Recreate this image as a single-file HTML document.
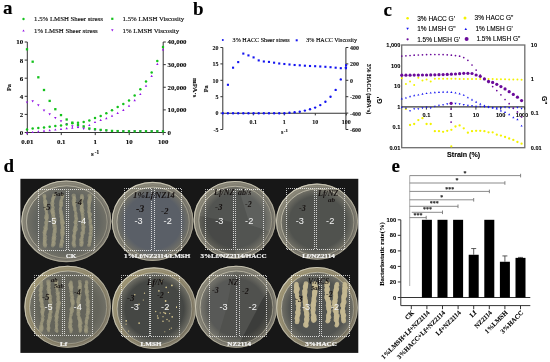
<!DOCTYPE html>
<html><head><meta charset="utf-8"><title>Figure</title>
<style>html,body{margin:0;padding:0;background:#fff;} svg{display:block;}</style>
</head><body>
<svg width="550" height="362" viewBox="0 0 550 362">
<rect x="20.4" y="178.8" width="337.90000000000003" height="174.09999999999997" fill="#171717"/>
<clipPath id="ph"><rect x="20.4" y="178.8" width="337.90000000000003" height="174.09999999999997"/></clipPath>
<g clip-path="url(#ph)">
<defs>
<linearGradient id="rimg" x1="0" y1="0" x2="1" y2="1"><stop offset="0" stop-color="#8c8978"/><stop offset="0.5" stop-color="#77756b"/><stop offset="1" stop-color="#64625a"/></linearGradient>
<linearGradient id="rimw" x1="0" y1="0" x2="1" y2="1"><stop offset="0" stop-color="#a49a74"/><stop offset="0.5" stop-color="#8a8268"/><stop offset="1" stop-color="#6e685a"/></linearGradient>
<linearGradient id="edg" x1="0" y1="0" x2="1" y2="1"><stop offset="0" stop-color="#d8d4c2"/><stop offset="0.55" stop-color="#b0ac9a"/><stop offset="1" stop-color="#989484"/></linearGradient>
<radialGradient id="in0" cx="50%" cy="50%" r="50%"><stop offset="0" stop-color="#62645f"/><stop offset="0.78" stop-color="#62645f"/><stop offset="1" stop-color="#727167"/></radialGradient>
<radialGradient id="in1" cx="50%" cy="50%" r="50%"><stop offset="0" stop-color="#5a5f67"/><stop offset="0.78" stop-color="#5a5f67"/><stop offset="1" stop-color="#727167"/></radialGradient>
<radialGradient id="in2" cx="50%" cy="50%" r="50%"><stop offset="0" stop-color="#525451"/><stop offset="0.78" stop-color="#525451"/><stop offset="1" stop-color="#727167"/></radialGradient>
<radialGradient id="in3" cx="50%" cy="50%" r="50%"><stop offset="0" stop-color="#50524e"/><stop offset="0.78" stop-color="#50524e"/><stop offset="1" stop-color="#727167"/></radialGradient>
<radialGradient id="in4" cx="50%" cy="50%" r="50%"><stop offset="0" stop-color="#64645b"/><stop offset="0.78" stop-color="#64645b"/><stop offset="1" stop-color="#727167"/></radialGradient>
<radialGradient id="in5" cx="50%" cy="50%" r="50%"><stop offset="0" stop-color="#454744"/><stop offset="0.78" stop-color="#454744"/><stop offset="1" stop-color="#727167"/></radialGradient>
<radialGradient id="in6" cx="50%" cy="50%" r="50%"><stop offset="0" stop-color="#50514e"/><stop offset="0.78" stop-color="#50514e"/><stop offset="1" stop-color="#727167"/></radialGradient>
<radialGradient id="in7" cx="50%" cy="50%" r="50%"><stop offset="0" stop-color="#525451"/><stop offset="0.78" stop-color="#525451"/><stop offset="1" stop-color="#727167"/></radialGradient>
</defs>
<ellipse cx="66.3" cy="221.3" rx="45.0" ry="40.8" fill="url(#rimg)"/>
<ellipse cx="66.3" cy="221.3" rx="44.5" ry="40.3" fill="none" stroke="url(#edg)" stroke-width="1.15"/>
<ellipse cx="66.6" cy="221.70000000000002" rx="42.8" ry="38.599999999999994" fill="none" stroke="#a29e8c" stroke-width="0.6" opacity="0.6"/>
<ellipse cx="66.8" cy="222.0" rx="40.4" ry="36.199999999999996" fill="url(#in0)"/>
<ellipse cx="66.8" cy="222.0" rx="40.4" ry="36.199999999999996" fill="none" stroke="url(#edg)" stroke-width="0.9" opacity="0.85"/>
<circle cx="44.3" cy="195.7" r="1.99" fill="#a29c80" opacity="0.6"/>
<circle cx="44.7" cy="196.8" r="1.73" fill="#a29c80" opacity="0.6"/>
<circle cx="44.7" cy="197.8" r="1.43" fill="#a29c80" opacity="0.6"/>
<circle cx="44.4" cy="199.2" r="1.48" fill="#a29c80" opacity="0.6"/>
<circle cx="45.3" cy="200.5" r="1.51" fill="#a29c80" opacity="0.6"/>
<circle cx="45.2" cy="201.7" r="2.25" fill="#a29c80" opacity="0.6"/>
<circle cx="45.2" cy="203.1" r="2.28" fill="#a29c80" opacity="0.6"/>
<circle cx="45.8" cy="204.2" r="1.66" fill="#a29c80" opacity="0.6"/>
<circle cx="45.2" cy="205.3" r="1.68" fill="#a29c80" opacity="0.6"/>
<circle cx="45.5" cy="206.9" r="1.92" fill="#a29c80" opacity="0.6"/>
<circle cx="45.9" cy="208.4" r="1.89" fill="#a29c80" opacity="0.6"/>
<circle cx="45.7" cy="209.5" r="1.59" fill="#a29c80" opacity="0.6"/>
<circle cx="46.3" cy="211.0" r="1.68" fill="#a29c80" opacity="0.6"/>
<circle cx="46.4" cy="212.5" r="1.67" fill="#a29c80" opacity="0.6"/>
<circle cx="46.8" cy="214.1" r="1.62" fill="#a29c80" opacity="0.6"/>
<circle cx="46.7" cy="215.6" r="2.19" fill="#a29c80" opacity="0.6"/>
<circle cx="46.4" cy="217.2" r="2.28" fill="#a29c80" opacity="0.6"/>
<circle cx="46.5" cy="218.3" r="2.08" fill="#a29c80" opacity="0.6"/>
<circle cx="46.6" cy="219.4" r="1.44" fill="#a29c80" opacity="0.6"/>
<circle cx="46.7" cy="220.9" r="1.92" fill="#a29c80" opacity="0.6"/>
<circle cx="46.1" cy="222.6" r="2.03" fill="#a29c80" opacity="0.6"/>
<circle cx="46.2" cy="224.1" r="1.81" fill="#a29c80" opacity="0.6"/>
<circle cx="46.3" cy="225.8" r="1.83" fill="#a29c80" opacity="0.6"/>
<circle cx="45.3" cy="227.3" r="2.03" fill="#a29c80" opacity="0.6"/>
<circle cx="46.0" cy="228.8" r="2.14" fill="#a29c80" opacity="0.6"/>
<circle cx="45.2" cy="230.1" r="2.00" fill="#a29c80" opacity="0.6"/>
<circle cx="45.1" cy="231.1" r="1.55" fill="#a29c80" opacity="0.6"/>
<circle cx="44.6" cy="232.2" r="2.09" fill="#a29c80" opacity="0.6"/>
<circle cx="44.7" cy="233.3" r="1.75" fill="#a29c80" opacity="0.6"/>
<circle cx="44.4" cy="235.0" r="1.80" fill="#a29c80" opacity="0.6"/>
<circle cx="45.1" cy="236.4" r="2.14" fill="#a29c80" opacity="0.6"/>
<circle cx="44.4" cy="238.1" r="1.77" fill="#a29c80" opacity="0.6"/>
<circle cx="45.0" cy="239.4" r="2.26" fill="#a29c80" opacity="0.6"/>
<circle cx="44.4" cy="240.5" r="1.61" fill="#a29c80" opacity="0.6"/>
<circle cx="44.7" cy="241.7" r="1.93" fill="#a29c80" opacity="0.6"/>
<circle cx="44.3" cy="242.9" r="1.78" fill="#a29c80" opacity="0.6"/>
<circle cx="45.0" cy="244.2" r="2.26" fill="#a29c80" opacity="0.6"/>
<circle cx="45.1" cy="245.8" r="1.96" fill="#a29c80" opacity="0.6"/>
<circle cx="54.1" cy="195.7" r="2.10" fill="#a29c80" opacity="0.6"/>
<circle cx="53.7" cy="197.4" r="1.75" fill="#a29c80" opacity="0.6"/>
<circle cx="52.9" cy="198.7" r="1.97" fill="#a29c80" opacity="0.6"/>
<circle cx="52.7" cy="199.8" r="1.59" fill="#a29c80" opacity="0.6"/>
<circle cx="52.9" cy="200.9" r="1.45" fill="#a29c80" opacity="0.6"/>
<circle cx="52.6" cy="201.9" r="1.49" fill="#a29c80" opacity="0.6"/>
<circle cx="52.3" cy="203.2" r="2.19" fill="#a29c80" opacity="0.6"/>
<circle cx="52.4" cy="204.7" r="1.63" fill="#a29c80" opacity="0.6"/>
<circle cx="52.6" cy="206.0" r="1.51" fill="#a29c80" opacity="0.6"/>
<circle cx="53.2" cy="207.6" r="1.82" fill="#a29c80" opacity="0.6"/>
<circle cx="52.4" cy="209.0" r="1.49" fill="#a29c80" opacity="0.6"/>
<circle cx="52.6" cy="210.3" r="2.15" fill="#a29c80" opacity="0.6"/>
<circle cx="52.5" cy="211.4" r="2.26" fill="#a29c80" opacity="0.6"/>
<circle cx="52.7" cy="212.9" r="1.89" fill="#a29c80" opacity="0.6"/>
<circle cx="53.2" cy="213.9" r="2.28" fill="#a29c80" opacity="0.6"/>
<circle cx="53.6" cy="215.6" r="1.64" fill="#a29c80" opacity="0.6"/>
<circle cx="53.3" cy="216.9" r="2.09" fill="#a29c80" opacity="0.6"/>
<circle cx="54.1" cy="218.3" r="1.70" fill="#a29c80" opacity="0.6"/>
<circle cx="54.3" cy="219.5" r="2.29" fill="#a29c80" opacity="0.6"/>
<circle cx="54.5" cy="221.1" r="2.14" fill="#a29c80" opacity="0.6"/>
<circle cx="54.1" cy="222.7" r="1.87" fill="#a29c80" opacity="0.6"/>
<circle cx="54.0" cy="224.0" r="1.43" fill="#a29c80" opacity="0.6"/>
<circle cx="54.4" cy="225.2" r="2.02" fill="#a29c80" opacity="0.6"/>
<circle cx="54.6" cy="227.0" r="2.24" fill="#a29c80" opacity="0.6"/>
<circle cx="55.2" cy="228.8" r="1.73" fill="#a29c80" opacity="0.6"/>
<circle cx="54.4" cy="230.0" r="1.58" fill="#a29c80" opacity="0.6"/>
<circle cx="54.8" cy="231.1" r="2.21" fill="#a29c80" opacity="0.6"/>
<circle cx="54.5" cy="232.8" r="1.99" fill="#a29c80" opacity="0.6"/>
<circle cx="54.0" cy="234.5" r="1.99" fill="#a29c80" opacity="0.6"/>
<circle cx="54.4" cy="236.2" r="2.08" fill="#a29c80" opacity="0.6"/>
<circle cx="53.7" cy="237.6" r="2.11" fill="#a29c80" opacity="0.6"/>
<circle cx="54.1" cy="238.8" r="2.27" fill="#a29c80" opacity="0.6"/>
<circle cx="53.5" cy="240.1" r="2.25" fill="#a29c80" opacity="0.6"/>
<circle cx="53.1" cy="241.7" r="1.51" fill="#a29c80" opacity="0.6"/>
<circle cx="53.7" cy="242.8" r="2.13" fill="#a29c80" opacity="0.6"/>
<circle cx="53.4" cy="244.0" r="2.28" fill="#a29c80" opacity="0.6"/>
<circle cx="52.8" cy="245.5" r="1.89" fill="#a29c80" opacity="0.6"/>
<circle cx="62.5" cy="195.7" r="1.98" fill="#a29c80" opacity="0.6"/>
<circle cx="62.2" cy="197.1" r="1.79" fill="#a29c80" opacity="0.6"/>
<circle cx="61.9" cy="198.8" r="1.59" fill="#a29c80" opacity="0.6"/>
<circle cx="61.2" cy="200.0" r="1.62" fill="#a29c80" opacity="0.6"/>
<circle cx="61.0" cy="201.5" r="1.78" fill="#a29c80" opacity="0.6"/>
<circle cx="61.5" cy="202.6" r="1.72" fill="#a29c80" opacity="0.6"/>
<circle cx="61.0" cy="204.0" r="2.21" fill="#a29c80" opacity="0.6"/>
<circle cx="61.3" cy="205.3" r="1.85" fill="#a29c80" opacity="0.6"/>
<circle cx="60.8" cy="206.7" r="1.42" fill="#a29c80" opacity="0.6"/>
<circle cx="60.5" cy="208.1" r="1.40" fill="#a29c80" opacity="0.6"/>
<circle cx="60.5" cy="209.7" r="1.83" fill="#a29c80" opacity="0.6"/>
<circle cx="60.9" cy="211.3" r="1.69" fill="#a29c80" opacity="0.6"/>
<circle cx="61.0" cy="212.7" r="2.11" fill="#a29c80" opacity="0.6"/>
<circle cx="61.1" cy="213.8" r="1.62" fill="#a29c80" opacity="0.6"/>
<circle cx="61.5" cy="215.0" r="1.86" fill="#a29c80" opacity="0.6"/>
<circle cx="61.6" cy="216.5" r="2.22" fill="#a29c80" opacity="0.6"/>
<circle cx="61.7" cy="217.8" r="1.85" fill="#a29c80" opacity="0.6"/>
<circle cx="62.0" cy="219.2" r="1.81" fill="#a29c80" opacity="0.6"/>
<circle cx="61.9" cy="220.7" r="2.25" fill="#a29c80" opacity="0.6"/>
<circle cx="62.6" cy="222.2" r="2.25" fill="#a29c80" opacity="0.6"/>
<circle cx="62.4" cy="223.4" r="2.25" fill="#a29c80" opacity="0.6"/>
<circle cx="62.1" cy="225.1" r="1.51" fill="#a29c80" opacity="0.6"/>
<circle cx="62.2" cy="226.4" r="1.62" fill="#a29c80" opacity="0.6"/>
<circle cx="62.9" cy="227.5" r="2.11" fill="#a29c80" opacity="0.6"/>
<circle cx="62.4" cy="229.2" r="2.04" fill="#a29c80" opacity="0.6"/>
<circle cx="62.4" cy="230.8" r="2.19" fill="#a29c80" opacity="0.6"/>
<circle cx="62.4" cy="232.5" r="2.26" fill="#a29c80" opacity="0.6"/>
<circle cx="62.6" cy="233.8" r="2.29" fill="#a29c80" opacity="0.6"/>
<circle cx="62.2" cy="235.5" r="1.79" fill="#a29c80" opacity="0.6"/>
<circle cx="62.2" cy="236.9" r="1.58" fill="#a29c80" opacity="0.6"/>
<circle cx="62.4" cy="238.2" r="1.42" fill="#a29c80" opacity="0.6"/>
<circle cx="61.9" cy="239.6" r="1.42" fill="#a29c80" opacity="0.6"/>
<circle cx="61.9" cy="240.9" r="1.86" fill="#a29c80" opacity="0.6"/>
<circle cx="62.2" cy="241.9" r="2.11" fill="#a29c80" opacity="0.6"/>
<circle cx="61.0" cy="243.7" r="1.64" fill="#a29c80" opacity="0.6"/>
<circle cx="61.6" cy="244.7" r="1.64" fill="#a29c80" opacity="0.6"/>
<circle cx="61.1" cy="245.9" r="2.22" fill="#a29c80" opacity="0.6"/>
<circle cx="73.7" cy="195.7" r="2.23" fill="#a29c80" opacity="0.6"/>
<circle cx="74.2" cy="197.2" r="1.48" fill="#a29c80" opacity="0.6"/>
<circle cx="74.2" cy="198.2" r="1.78" fill="#a29c80" opacity="0.6"/>
<circle cx="74.4" cy="199.3" r="1.97" fill="#a29c80" opacity="0.6"/>
<circle cx="73.7" cy="200.9" r="2.17" fill="#a29c80" opacity="0.6"/>
<circle cx="74.5" cy="202.0" r="1.81" fill="#a29c80" opacity="0.6"/>
<circle cx="74.3" cy="203.2" r="2.23" fill="#a29c80" opacity="0.6"/>
<circle cx="74.1" cy="204.4" r="1.87" fill="#a29c80" opacity="0.6"/>
<circle cx="74.2" cy="205.6" r="1.55" fill="#a29c80" opacity="0.6"/>
<circle cx="74.4" cy="206.7" r="1.68" fill="#a29c80" opacity="0.6"/>
<circle cx="75.1" cy="207.9" r="1.66" fill="#a29c80" opacity="0.6"/>
<circle cx="74.8" cy="209.3" r="1.71" fill="#a29c80" opacity="0.6"/>
<circle cx="75.0" cy="210.3" r="1.41" fill="#a29c80" opacity="0.6"/>
<circle cx="75.5" cy="211.9" r="1.57" fill="#a29c80" opacity="0.6"/>
<circle cx="76.0" cy="213.3" r="1.50" fill="#a29c80" opacity="0.6"/>
<circle cx="75.7" cy="215.0" r="1.85" fill="#a29c80" opacity="0.6"/>
<circle cx="75.8" cy="216.6" r="1.86" fill="#a29c80" opacity="0.6"/>
<circle cx="76.4" cy="218.2" r="1.71" fill="#a29c80" opacity="0.6"/>
<circle cx="76.2" cy="219.8" r="1.97" fill="#a29c80" opacity="0.6"/>
<circle cx="75.8" cy="221.2" r="1.45" fill="#a29c80" opacity="0.6"/>
<circle cx="75.5" cy="222.3" r="2.07" fill="#a29c80" opacity="0.6"/>
<circle cx="75.5" cy="223.5" r="1.48" fill="#a29c80" opacity="0.6"/>
<circle cx="76.0" cy="225.1" r="2.00" fill="#a29c80" opacity="0.6"/>
<circle cx="75.3" cy="226.4" r="1.66" fill="#a29c80" opacity="0.6"/>
<circle cx="75.0" cy="227.7" r="1.80" fill="#a29c80" opacity="0.6"/>
<circle cx="75.7" cy="228.9" r="2.28" fill="#a29c80" opacity="0.6"/>
<circle cx="74.7" cy="230.4" r="2.27" fill="#a29c80" opacity="0.6"/>
<circle cx="74.7" cy="231.6" r="1.40" fill="#a29c80" opacity="0.6"/>
<circle cx="74.6" cy="232.9" r="1.85" fill="#a29c80" opacity="0.6"/>
<circle cx="74.5" cy="234.1" r="1.40" fill="#a29c80" opacity="0.6"/>
<circle cx="73.9" cy="235.3" r="1.76" fill="#a29c80" opacity="0.6"/>
<circle cx="73.8" cy="236.3" r="1.67" fill="#a29c80" opacity="0.6"/>
<circle cx="74.2" cy="237.5" r="1.88" fill="#a29c80" opacity="0.6"/>
<circle cx="74.2" cy="239.1" r="2.04" fill="#a29c80" opacity="0.6"/>
<circle cx="73.9" cy="240.8" r="1.69" fill="#a29c80" opacity="0.6"/>
<circle cx="73.6" cy="242.6" r="2.05" fill="#a29c80" opacity="0.6"/>
<circle cx="73.6" cy="244.1" r="2.15" fill="#a29c80" opacity="0.6"/>
<circle cx="74.3" cy="245.8" r="2.06" fill="#a29c80" opacity="0.6"/>
<circle cx="81.9" cy="195.7" r="1.85" fill="#a29c80" opacity="0.6"/>
<circle cx="82.0" cy="197.4" r="2.14" fill="#a29c80" opacity="0.6"/>
<circle cx="82.0" cy="198.8" r="2.01" fill="#a29c80" opacity="0.6"/>
<circle cx="81.2" cy="200.4" r="1.43" fill="#a29c80" opacity="0.6"/>
<circle cx="81.3" cy="201.5" r="1.49" fill="#a29c80" opacity="0.6"/>
<circle cx="81.5" cy="203.2" r="1.96" fill="#a29c80" opacity="0.6"/>
<circle cx="81.6" cy="204.7" r="1.84" fill="#a29c80" opacity="0.6"/>
<circle cx="81.8" cy="205.7" r="2.07" fill="#a29c80" opacity="0.6"/>
<circle cx="81.6" cy="207.1" r="1.99" fill="#a29c80" opacity="0.6"/>
<circle cx="81.9" cy="208.1" r="1.63" fill="#a29c80" opacity="0.6"/>
<circle cx="81.6" cy="209.2" r="2.06" fill="#a29c80" opacity="0.6"/>
<circle cx="82.2" cy="210.3" r="2.28" fill="#a29c80" opacity="0.6"/>
<circle cx="82.0" cy="211.7" r="1.83" fill="#a29c80" opacity="0.6"/>
<circle cx="82.6" cy="213.3" r="1.96" fill="#a29c80" opacity="0.6"/>
<circle cx="82.2" cy="214.8" r="1.53" fill="#a29c80" opacity="0.6"/>
<circle cx="83.0" cy="216.0" r="1.67" fill="#a29c80" opacity="0.6"/>
<circle cx="82.4" cy="217.5" r="1.45" fill="#a29c80" opacity="0.6"/>
<circle cx="83.2" cy="218.7" r="2.02" fill="#a29c80" opacity="0.6"/>
<circle cx="83.0" cy="220.2" r="1.86" fill="#a29c80" opacity="0.6"/>
<circle cx="83.3" cy="221.6" r="1.51" fill="#a29c80" opacity="0.6"/>
<circle cx="83.1" cy="223.3" r="2.28" fill="#a29c80" opacity="0.6"/>
<circle cx="82.9" cy="225.1" r="1.81" fill="#a29c80" opacity="0.6"/>
<circle cx="83.9" cy="226.7" r="1.80" fill="#a29c80" opacity="0.6"/>
<circle cx="83.0" cy="227.9" r="2.25" fill="#a29c80" opacity="0.6"/>
<circle cx="83.3" cy="229.1" r="1.53" fill="#a29c80" opacity="0.6"/>
<circle cx="83.6" cy="230.5" r="1.52" fill="#a29c80" opacity="0.6"/>
<circle cx="82.9" cy="232.2" r="2.20" fill="#a29c80" opacity="0.6"/>
<circle cx="82.4" cy="233.7" r="2.21" fill="#a29c80" opacity="0.6"/>
<circle cx="82.0" cy="235.1" r="1.40" fill="#a29c80" opacity="0.6"/>
<circle cx="82.3" cy="236.5" r="1.67" fill="#a29c80" opacity="0.6"/>
<circle cx="82.0" cy="237.6" r="1.68" fill="#a29c80" opacity="0.6"/>
<circle cx="81.4" cy="239.3" r="2.08" fill="#a29c80" opacity="0.6"/>
<circle cx="81.4" cy="241.0" r="2.23" fill="#a29c80" opacity="0.6"/>
<circle cx="82.0" cy="242.5" r="1.66" fill="#a29c80" opacity="0.6"/>
<circle cx="81.4" cy="243.8" r="2.30" fill="#a29c80" opacity="0.6"/>
<circle cx="81.3" cy="245.3" r="1.79" fill="#a29c80" opacity="0.6"/>
<circle cx="89.5" cy="195.7" r="2.15" fill="#a29c80" opacity="0.6"/>
<circle cx="90.2" cy="196.9" r="1.62" fill="#a29c80" opacity="0.6"/>
<circle cx="89.6" cy="198.1" r="1.57" fill="#a29c80" opacity="0.6"/>
<circle cx="89.8" cy="199.4" r="2.20" fill="#a29c80" opacity="0.6"/>
<circle cx="89.3" cy="201.1" r="2.22" fill="#a29c80" opacity="0.6"/>
<circle cx="89.1" cy="202.8" r="2.05" fill="#a29c80" opacity="0.6"/>
<circle cx="89.2" cy="203.9" r="1.81" fill="#a29c80" opacity="0.6"/>
<circle cx="89.0" cy="205.5" r="1.66" fill="#a29c80" opacity="0.6"/>
<circle cx="89.3" cy="206.5" r="1.51" fill="#a29c80" opacity="0.6"/>
<circle cx="88.7" cy="207.9" r="1.67" fill="#a29c80" opacity="0.6"/>
<circle cx="89.4" cy="209.5" r="1.63" fill="#a29c80" opacity="0.6"/>
<circle cx="88.9" cy="211.0" r="1.90" fill="#a29c80" opacity="0.6"/>
<circle cx="88.8" cy="212.3" r="1.55" fill="#a29c80" opacity="0.6"/>
<circle cx="89.7" cy="213.5" r="1.85" fill="#a29c80" opacity="0.6"/>
<circle cx="89.9" cy="214.7" r="2.30" fill="#a29c80" opacity="0.6"/>
<circle cx="89.3" cy="216.0" r="1.57" fill="#a29c80" opacity="0.6"/>
<circle cx="89.6" cy="217.1" r="1.48" fill="#a29c80" opacity="0.6"/>
<circle cx="89.7" cy="218.3" r="1.91" fill="#a29c80" opacity="0.6"/>
<circle cx="90.4" cy="220.0" r="1.77" fill="#a29c80" opacity="0.6"/>
<circle cx="90.4" cy="221.3" r="1.74" fill="#a29c80" opacity="0.6"/>
<circle cx="90.1" cy="222.6" r="1.65" fill="#a29c80" opacity="0.6"/>
<circle cx="90.3" cy="224.4" r="1.85" fill="#a29c80" opacity="0.6"/>
<circle cx="91.2" cy="225.9" r="1.59" fill="#a29c80" opacity="0.6"/>
<circle cx="90.6" cy="227.1" r="1.76" fill="#a29c80" opacity="0.6"/>
<circle cx="91.3" cy="228.5" r="2.16" fill="#a29c80" opacity="0.6"/>
<circle cx="90.4" cy="230.2" r="1.43" fill="#a29c80" opacity="0.6"/>
<circle cx="91.2" cy="231.7" r="1.83" fill="#a29c80" opacity="0.6"/>
<circle cx="90.2" cy="233.2" r="1.75" fill="#a29c80" opacity="0.6"/>
<circle cx="90.8" cy="234.9" r="2.17" fill="#a29c80" opacity="0.6"/>
<circle cx="90.0" cy="236.7" r="1.50" fill="#a29c80" opacity="0.6"/>
<circle cx="90.2" cy="237.8" r="2.01" fill="#a29c80" opacity="0.6"/>
<circle cx="90.1" cy="239.6" r="1.98" fill="#a29c80" opacity="0.6"/>
<circle cx="89.6" cy="241.2" r="1.90" fill="#a29c80" opacity="0.6"/>
<circle cx="89.8" cy="242.2" r="1.61" fill="#a29c80" opacity="0.6"/>
<circle cx="89.5" cy="244.0" r="1.67" fill="#a29c80" opacity="0.6"/>
<circle cx="88.9" cy="245.1" r="1.97" fill="#a29c80" opacity="0.6"/>
<rect x="38.5" y="189.5" width="28.0" height="61.0" fill="none" stroke="#ffffff" stroke-width="0.95" stroke-dasharray="1 1" stroke-dashoffset="0.5" opacity="0.8"/>
<rect x="68.5" y="189.5" width="26.0" height="61.0" fill="none" stroke="#ffffff" stroke-width="0.95" stroke-dasharray="1 1" stroke-dashoffset="0.5" opacity="0.8"/>
<text x="43" y="210" font-family="'Liberation Serif','Times New Roman',serif" font-style="italic" font-weight="bold" font-size="9" fill="#120d0c" opacity="0.92">-5</text>
<text x="54" y="196" font-family="'Liberation Serif','Times New Roman',serif" font-style="italic" font-weight="bold" font-size="6.5" fill="#120d0c" opacity="0.92">5ab</text>
<text x="75" y="205" font-family="'Liberation Serif','Times New Roman',serif" font-style="italic" font-weight="bold" font-size="8.5" fill="#120d0c" opacity="0.92">-4</text>
<text x="52.3" y="223.5" font-family="'Liberation Sans',Arial,sans-serif" font-size="9.2" fill="#f4f4f4" text-anchor="middle">-5</text>
<text x="82.0" y="223.5" font-family="'Liberation Sans',Arial,sans-serif" font-size="9.2" fill="#f4f4f4" text-anchor="middle">-4</text>
<text x="71.0" y="258.40000000000003" font-family="'Liberation Serif','Times New Roman',serif" font-size="7.1" font-weight="bold" fill="#f6f6f6" stroke="#f6f6f6" stroke-width="0.2" text-anchor="middle">CK</text>
<ellipse cx="152.6" cy="221.4" rx="40.8" ry="39.5" fill="url(#rimg)"/>
<ellipse cx="152.6" cy="221.4" rx="40.3" ry="39.0" fill="none" stroke="url(#edg)" stroke-width="1.15"/>
<ellipse cx="152.9" cy="221.8" rx="38.599999999999994" ry="37.3" fill="none" stroke="#a29e8c" stroke-width="0.6" opacity="0.6"/>
<ellipse cx="153.1" cy="222.1" rx="36.199999999999996" ry="34.9" fill="url(#in1)"/>
<ellipse cx="153.1" cy="222.1" rx="36.199999999999996" ry="34.9" fill="none" stroke="url(#edg)" stroke-width="0.9" opacity="0.85"/>
<rect x="124.5" y="188.5" width="27.0" height="62.0" fill="none" stroke="#ffffff" stroke-width="0.95" stroke-dasharray="1 1" stroke-dashoffset="0.5" opacity="0.8"/>
<rect x="154.5" y="188.5" width="27.0" height="62.0" fill="none" stroke="#ffffff" stroke-width="0.95" stroke-dasharray="1 1" stroke-dashoffset="0.5" opacity="0.8"/>
<text x="133" y="198" font-family="'Liberation Serif','Times New Roman',serif" font-style="italic" font-weight="bold" font-size="9" fill="#120d0c" opacity="0.92">1%Lf/</text>
<text x="155" y="198" font-family="'Liberation Serif','Times New Roman',serif" font-style="italic" font-weight="bold" font-size="8.5" fill="#120d0c" opacity="0.92">NZ14</text>
<text x="136" y="212" font-family="'Liberation Serif','Times New Roman',serif" font-style="italic" font-weight="bold" font-size="10" fill="#120d0c" opacity="0.92">-3</text>
<text x="161" y="214" font-family="'Liberation Serif','Times New Roman',serif" font-style="italic" font-weight="bold" font-size="9" fill="#120d0c" opacity="0.92">-2</text>
<text x="138.6" y="223.5" font-family="'Liberation Sans',Arial,sans-serif" font-size="9.2" fill="#f4f4f4" text-anchor="middle">-3</text>
<text x="167.7" y="223.5" font-family="'Liberation Sans',Arial,sans-serif" font-size="9.2" fill="#f4f4f4" text-anchor="middle">-2</text>
<text x="157.2" y="258.40000000000003" font-family="'Liberation Serif','Times New Roman',serif" font-size="7.1" font-weight="bold" fill="#f6f6f6" stroke="#f6f6f6" stroke-width="0.2" text-anchor="middle">1%Lf/NZ2114/LMSH</text>
<ellipse cx="234.7" cy="219.8" rx="41.0" ry="38.8" fill="url(#rimg)"/>
<ellipse cx="234.7" cy="219.8" rx="40.5" ry="38.3" fill="none" stroke="url(#edg)" stroke-width="1.15"/>
<ellipse cx="235.0" cy="220.20000000000002" rx="38.8" ry="36.599999999999994" fill="none" stroke="#a29e8c" stroke-width="0.6" opacity="0.6"/>
<ellipse cx="235.2" cy="220.5" rx="36.4" ry="34.199999999999996" fill="url(#in2)"/>
<ellipse cx="235.2" cy="220.5" rx="36.4" ry="34.199999999999996" fill="none" stroke="url(#edg)" stroke-width="0.9" opacity="0.85"/>
<clipPath id="ic2"><ellipse cx="235.2" cy="220.5" rx="35.8" ry="33.599999999999994"/></clipPath>
<g clip-path="url(#ic2)"><polygon points="236,180 280,180 280,235 250,225" fill="#fff" opacity="0.07"/><polygon points="195,215 232,222 236,262 195,262" fill="#000" opacity="0.12"/></g>
<rect x="205.5" y="189.5" width="28.0" height="60.0" fill="none" stroke="#ffffff" stroke-width="0.95" stroke-dasharray="1 1" stroke-dashoffset="0.5" opacity="0.8"/>
<rect x="235.5" y="189.5" width="28.0" height="60.0" fill="none" stroke="#ffffff" stroke-width="0.95" stroke-dasharray="1 1" stroke-dashoffset="0.5" opacity="0.8"/>
<text x="214" y="195" font-family="'Liberation Serif','Times New Roman',serif" font-style="italic" font-weight="bold" font-size="8" fill="#120d0c" opacity="0.92">Lf/NZ</text>
<text x="238" y="195" font-family="'Liberation Serif','Times New Roman',serif" font-style="italic" font-weight="bold" font-size="8" fill="#120d0c" opacity="0.92">ab/s</text>
<text x="215" y="210" font-family="'Liberation Serif','Times New Roman',serif" font-style="italic" font-weight="bold" font-size="9" fill="#120d0c" opacity="0.92">-3</text>
<text x="245" y="207" font-family="'Liberation Serif','Times New Roman',serif" font-style="italic" font-weight="bold" font-size="8" fill="#120d0c" opacity="0.92">-2</text>
<text x="219.4" y="223.5" font-family="'Liberation Sans',Arial,sans-serif" font-size="9.2" fill="#f4f4f4" text-anchor="middle">-3</text>
<text x="249.2" y="223.5" font-family="'Liberation Sans',Arial,sans-serif" font-size="9.2" fill="#f4f4f4" text-anchor="middle">-2</text>
<text x="233.5" y="258.40000000000003" font-family="'Liberation Serif','Times New Roman',serif" font-size="7.1" font-weight="bold" fill="#f6f6f6" stroke="#f6f6f6" stroke-width="0.2" text-anchor="middle">3%Lf/NZ2114/HACC</text>
<ellipse cx="317.0" cy="221.6" rx="41.0" ry="38.0" fill="url(#rimg)"/>
<ellipse cx="317.0" cy="221.6" rx="40.5" ry="37.5" fill="none" stroke="url(#edg)" stroke-width="1.15"/>
<ellipse cx="317.3" cy="222.0" rx="38.8" ry="35.8" fill="none" stroke="#a29e8c" stroke-width="0.6" opacity="0.6"/>
<ellipse cx="317.5" cy="222.29999999999998" rx="36.4" ry="33.4" fill="url(#in3)"/>
<ellipse cx="317.5" cy="222.29999999999998" rx="36.4" ry="33.4" fill="none" stroke="url(#edg)" stroke-width="0.9" opacity="0.85"/>
<rect x="286.5" y="188.5" width="28.0" height="61.0" fill="none" stroke="#ffffff" stroke-width="0.95" stroke-dasharray="1 1" stroke-dashoffset="0.5" opacity="0.8"/>
<rect x="316.5" y="188.5" width="28.0" height="61.0" fill="none" stroke="#ffffff" stroke-width="0.95" stroke-dasharray="1 1" stroke-dashoffset="0.5" opacity="0.8"/>
<text x="318" y="196" font-family="'Liberation Serif','Times New Roman',serif" font-style="italic" font-weight="bold" font-size="8" fill="#120d0c" opacity="0.92">Lf/NZ</text>
<text x="299" y="211" font-family="'Liberation Serif','Times New Roman',serif" font-style="italic" font-weight="bold" font-size="8" fill="#120d0c" opacity="0.92">-3</text>
<text x="328" y="202" font-family="'Liberation Serif','Times New Roman',serif" font-style="italic" font-weight="bold" font-size="7" fill="#120d0c" opacity="0.92">ab</text>
<text x="299.8" y="223.5" font-family="'Liberation Sans',Arial,sans-serif" font-size="9.2" fill="#f4f4f4" text-anchor="middle">-3</text>
<text x="330.2" y="223.5" font-family="'Liberation Sans',Arial,sans-serif" font-size="9.2" fill="#f4f4f4" text-anchor="middle">-2</text>
<text x="318.5" y="258.40000000000003" font-family="'Liberation Serif','Times New Roman',serif" font-size="7.1" font-weight="bold" fill="#f6f6f6" stroke="#f6f6f6" stroke-width="0.2" text-anchor="middle">Lf/NZ2114</text>
<ellipse cx="67.6" cy="306.7" rx="43.2" ry="41.0" fill="url(#rimw)"/>
<ellipse cx="67.6" cy="306.7" rx="42.7" ry="40.5" fill="none" stroke="url(#edg)" stroke-width="1.15"/>
<ellipse cx="67.89999999999999" cy="307.09999999999997" rx="41.0" ry="38.8" fill="none" stroke="#a29e8c" stroke-width="0.6" opacity="0.6"/>
<ellipse cx="68.1" cy="307.4" rx="38.6" ry="36.4" fill="url(#in4)"/>
<ellipse cx="68.1" cy="307.4" rx="38.6" ry="36.4" fill="none" stroke="url(#edg)" stroke-width="0.9" opacity="0.85"/>
<circle cx="41.2" cy="281.7" r="1.87" fill="#a29c80" opacity="0.6"/>
<circle cx="41.3" cy="283.2" r="1.60" fill="#a29c80" opacity="0.6"/>
<circle cx="40.8" cy="284.6" r="1.67" fill="#a29c80" opacity="0.6"/>
<circle cx="41.6" cy="286.0" r="1.98" fill="#a29c80" opacity="0.6"/>
<circle cx="40.9" cy="287.7" r="1.61" fill="#a29c80" opacity="0.6"/>
<circle cx="41.3" cy="288.9" r="2.03" fill="#a29c80" opacity="0.6"/>
<circle cx="40.3" cy="290.2" r="1.85" fill="#a29c80" opacity="0.6"/>
<circle cx="40.7" cy="291.7" r="1.63" fill="#a29c80" opacity="0.6"/>
<circle cx="41.2" cy="293.2" r="1.60" fill="#a29c80" opacity="0.6"/>
<circle cx="40.7" cy="294.3" r="1.78" fill="#a29c80" opacity="0.6"/>
<circle cx="40.6" cy="295.8" r="2.12" fill="#a29c80" opacity="0.6"/>
<circle cx="41.1" cy="297.4" r="1.58" fill="#a29c80" opacity="0.6"/>
<circle cx="41.1" cy="299.2" r="2.14" fill="#a29c80" opacity="0.6"/>
<circle cx="41.1" cy="300.4" r="2.08" fill="#a29c80" opacity="0.6"/>
<circle cx="42.0" cy="301.6" r="1.85" fill="#a29c80" opacity="0.6"/>
<circle cx="41.5" cy="302.8" r="1.78" fill="#a29c80" opacity="0.6"/>
<circle cx="42.4" cy="304.3" r="1.53" fill="#a29c80" opacity="0.6"/>
<circle cx="41.9" cy="305.6" r="2.28" fill="#a29c80" opacity="0.6"/>
<circle cx="41.8" cy="306.7" r="1.45" fill="#a29c80" opacity="0.6"/>
<circle cx="42.8" cy="308.0" r="2.20" fill="#a29c80" opacity="0.6"/>
<circle cx="43.1" cy="309.6" r="2.24" fill="#a29c80" opacity="0.6"/>
<circle cx="42.4" cy="310.9" r="2.24" fill="#a29c80" opacity="0.6"/>
<circle cx="42.3" cy="312.5" r="2.00" fill="#a29c80" opacity="0.6"/>
<circle cx="42.6" cy="313.8" r="1.70" fill="#a29c80" opacity="0.6"/>
<circle cx="42.3" cy="314.9" r="1.65" fill="#a29c80" opacity="0.6"/>
<circle cx="43.2" cy="316.2" r="1.51" fill="#a29c80" opacity="0.6"/>
<circle cx="42.3" cy="318.0" r="1.72" fill="#a29c80" opacity="0.6"/>
<circle cx="42.8" cy="319.6" r="1.79" fill="#a29c80" opacity="0.6"/>
<circle cx="42.3" cy="320.7" r="1.74" fill="#a29c80" opacity="0.6"/>
<circle cx="41.8" cy="322.4" r="1.73" fill="#a29c80" opacity="0.6"/>
<circle cx="41.4" cy="324.1" r="1.77" fill="#a29c80" opacity="0.6"/>
<circle cx="41.9" cy="325.8" r="1.44" fill="#a29c80" opacity="0.6"/>
<circle cx="41.1" cy="326.8" r="2.23" fill="#a29c80" opacity="0.6"/>
<circle cx="41.6" cy="328.0" r="2.21" fill="#a29c80" opacity="0.6"/>
<circle cx="41.0" cy="329.3" r="2.26" fill="#a29c80" opacity="0.6"/>
<circle cx="40.8" cy="330.8" r="2.04" fill="#a29c80" opacity="0.6"/>
<circle cx="48.2" cy="281.7" r="2.08" fill="#a29c80" opacity="0.6"/>
<circle cx="48.7" cy="283.4" r="2.25" fill="#a29c80" opacity="0.6"/>
<circle cx="48.3" cy="284.5" r="1.83" fill="#a29c80" opacity="0.6"/>
<circle cx="49.1" cy="286.2" r="1.75" fill="#a29c80" opacity="0.6"/>
<circle cx="48.6" cy="287.4" r="1.84" fill="#a29c80" opacity="0.6"/>
<circle cx="48.5" cy="289.2" r="2.12" fill="#a29c80" opacity="0.6"/>
<circle cx="49.2" cy="290.8" r="2.10" fill="#a29c80" opacity="0.6"/>
<circle cx="48.9" cy="292.2" r="1.69" fill="#a29c80" opacity="0.6"/>
<circle cx="49.6" cy="293.5" r="1.47" fill="#a29c80" opacity="0.6"/>
<circle cx="49.7" cy="294.7" r="1.62" fill="#a29c80" opacity="0.6"/>
<circle cx="49.1" cy="295.7" r="1.90" fill="#a29c80" opacity="0.6"/>
<circle cx="50.2" cy="297.0" r="2.20" fill="#a29c80" opacity="0.6"/>
<circle cx="49.8" cy="298.8" r="1.48" fill="#a29c80" opacity="0.6"/>
<circle cx="50.1" cy="299.9" r="2.04" fill="#a29c80" opacity="0.6"/>
<circle cx="50.0" cy="301.2" r="1.78" fill="#a29c80" opacity="0.6"/>
<circle cx="50.6" cy="302.7" r="2.07" fill="#a29c80" opacity="0.6"/>
<circle cx="50.7" cy="304.4" r="1.51" fill="#a29c80" opacity="0.6"/>
<circle cx="50.4" cy="306.1" r="1.91" fill="#a29c80" opacity="0.6"/>
<circle cx="50.8" cy="307.4" r="1.58" fill="#a29c80" opacity="0.6"/>
<circle cx="50.3" cy="308.6" r="1.54" fill="#a29c80" opacity="0.6"/>
<circle cx="50.5" cy="310.3" r="1.69" fill="#a29c80" opacity="0.6"/>
<circle cx="50.8" cy="311.6" r="1.86" fill="#a29c80" opacity="0.6"/>
<circle cx="50.5" cy="312.8" r="1.99" fill="#a29c80" opacity="0.6"/>
<circle cx="49.6" cy="314.6" r="1.83" fill="#a29c80" opacity="0.6"/>
<circle cx="50.1" cy="316.2" r="2.22" fill="#a29c80" opacity="0.6"/>
<circle cx="49.4" cy="317.3" r="1.51" fill="#a29c80" opacity="0.6"/>
<circle cx="50.0" cy="318.4" r="1.92" fill="#a29c80" opacity="0.6"/>
<circle cx="49.1" cy="320.2" r="2.18" fill="#a29c80" opacity="0.6"/>
<circle cx="48.8" cy="321.5" r="2.10" fill="#a29c80" opacity="0.6"/>
<circle cx="48.5" cy="323.3" r="1.94" fill="#a29c80" opacity="0.6"/>
<circle cx="48.5" cy="324.8" r="1.73" fill="#a29c80" opacity="0.6"/>
<circle cx="48.4" cy="325.9" r="1.63" fill="#a29c80" opacity="0.6"/>
<circle cx="48.8" cy="327.4" r="1.58" fill="#a29c80" opacity="0.6"/>
<circle cx="48.4" cy="328.4" r="2.01" fill="#a29c80" opacity="0.6"/>
<circle cx="48.4" cy="329.5" r="1.58" fill="#a29c80" opacity="0.6"/>
<circle cx="48.7" cy="331.1" r="1.46" fill="#a29c80" opacity="0.6"/>
<circle cx="56.5" cy="281.7" r="1.98" fill="#a29c80" opacity="0.6"/>
<circle cx="56.2" cy="282.8" r="2.03" fill="#a29c80" opacity="0.6"/>
<circle cx="56.4" cy="284.1" r="1.68" fill="#a29c80" opacity="0.6"/>
<circle cx="56.6" cy="285.9" r="1.91" fill="#a29c80" opacity="0.6"/>
<circle cx="56.8" cy="287.1" r="2.18" fill="#a29c80" opacity="0.6"/>
<circle cx="57.0" cy="288.9" r="1.58" fill="#a29c80" opacity="0.6"/>
<circle cx="57.1" cy="290.5" r="1.41" fill="#a29c80" opacity="0.6"/>
<circle cx="57.6" cy="292.3" r="2.14" fill="#a29c80" opacity="0.6"/>
<circle cx="58.2" cy="293.6" r="1.81" fill="#a29c80" opacity="0.6"/>
<circle cx="57.5" cy="294.7" r="1.90" fill="#a29c80" opacity="0.6"/>
<circle cx="58.5" cy="296.2" r="1.48" fill="#a29c80" opacity="0.6"/>
<circle cx="58.1" cy="297.7" r="1.85" fill="#a29c80" opacity="0.6"/>
<circle cx="58.1" cy="298.8" r="1.87" fill="#a29c80" opacity="0.6"/>
<circle cx="58.0" cy="300.6" r="1.84" fill="#a29c80" opacity="0.6"/>
<circle cx="58.9" cy="302.2" r="1.58" fill="#a29c80" opacity="0.6"/>
<circle cx="58.8" cy="303.3" r="2.28" fill="#a29c80" opacity="0.6"/>
<circle cx="57.8" cy="304.7" r="2.23" fill="#a29c80" opacity="0.6"/>
<circle cx="58.6" cy="306.0" r="1.96" fill="#a29c80" opacity="0.6"/>
<circle cx="57.7" cy="307.7" r="2.11" fill="#a29c80" opacity="0.6"/>
<circle cx="57.8" cy="308.9" r="2.16" fill="#a29c80" opacity="0.6"/>
<circle cx="57.4" cy="310.5" r="1.60" fill="#a29c80" opacity="0.6"/>
<circle cx="57.5" cy="311.8" r="1.75" fill="#a29c80" opacity="0.6"/>
<circle cx="57.1" cy="312.9" r="2.05" fill="#a29c80" opacity="0.6"/>
<circle cx="56.6" cy="314.7" r="1.91" fill="#a29c80" opacity="0.6"/>
<circle cx="56.4" cy="316.3" r="2.15" fill="#a29c80" opacity="0.6"/>
<circle cx="56.9" cy="317.4" r="1.90" fill="#a29c80" opacity="0.6"/>
<circle cx="56.4" cy="318.9" r="1.78" fill="#a29c80" opacity="0.6"/>
<circle cx="56.4" cy="320.3" r="1.99" fill="#a29c80" opacity="0.6"/>
<circle cx="56.4" cy="321.7" r="1.42" fill="#a29c80" opacity="0.6"/>
<circle cx="56.4" cy="323.2" r="1.61" fill="#a29c80" opacity="0.6"/>
<circle cx="56.7" cy="324.8" r="1.81" fill="#a29c80" opacity="0.6"/>
<circle cx="56.4" cy="325.9" r="1.50" fill="#a29c80" opacity="0.6"/>
<circle cx="56.4" cy="327.0" r="1.48" fill="#a29c80" opacity="0.6"/>
<circle cx="56.6" cy="328.4" r="1.44" fill="#a29c80" opacity="0.6"/>
<circle cx="56.4" cy="329.9" r="2.06" fill="#a29c80" opacity="0.6"/>
<circle cx="57.0" cy="331.5" r="1.45" fill="#a29c80" opacity="0.6"/>
<circle cx="70.9" cy="281.7" r="1.52" fill="#a29c80" opacity="0.6"/>
<circle cx="71.0" cy="283.4" r="2.06" fill="#a29c80" opacity="0.6"/>
<circle cx="70.3" cy="285.0" r="2.28" fill="#a29c80" opacity="0.6"/>
<circle cx="71.2" cy="286.4" r="2.22" fill="#a29c80" opacity="0.6"/>
<circle cx="71.2" cy="287.6" r="2.24" fill="#a29c80" opacity="0.6"/>
<circle cx="70.9" cy="288.6" r="2.08" fill="#a29c80" opacity="0.6"/>
<circle cx="71.6" cy="289.7" r="1.65" fill="#a29c80" opacity="0.6"/>
<circle cx="71.1" cy="291.4" r="1.85" fill="#a29c80" opacity="0.6"/>
<circle cx="71.4" cy="293.1" r="1.64" fill="#a29c80" opacity="0.6"/>
<circle cx="71.7" cy="294.5" r="1.43" fill="#a29c80" opacity="0.6"/>
<circle cx="71.7" cy="295.7" r="2.24" fill="#a29c80" opacity="0.6"/>
<circle cx="72.6" cy="297.2" r="1.55" fill="#a29c80" opacity="0.6"/>
<circle cx="71.9" cy="298.9" r="1.88" fill="#a29c80" opacity="0.6"/>
<circle cx="72.3" cy="300.4" r="2.19" fill="#a29c80" opacity="0.6"/>
<circle cx="72.5" cy="301.8" r="2.19" fill="#a29c80" opacity="0.6"/>
<circle cx="72.9" cy="302.9" r="1.97" fill="#a29c80" opacity="0.6"/>
<circle cx="72.7" cy="304.2" r="1.64" fill="#a29c80" opacity="0.6"/>
<circle cx="72.4" cy="306.0" r="1.72" fill="#a29c80" opacity="0.6"/>
<circle cx="72.1" cy="307.6" r="1.56" fill="#a29c80" opacity="0.6"/>
<circle cx="71.5" cy="309.2" r="2.14" fill="#a29c80" opacity="0.6"/>
<circle cx="72.0" cy="310.4" r="2.29" fill="#a29c80" opacity="0.6"/>
<circle cx="71.8" cy="311.9" r="1.68" fill="#a29c80" opacity="0.6"/>
<circle cx="71.0" cy="312.9" r="1.53" fill="#a29c80" opacity="0.6"/>
<circle cx="71.2" cy="314.4" r="1.86" fill="#a29c80" opacity="0.6"/>
<circle cx="70.7" cy="316.1" r="1.60" fill="#a29c80" opacity="0.6"/>
<circle cx="70.4" cy="317.6" r="1.40" fill="#a29c80" opacity="0.6"/>
<circle cx="70.3" cy="318.9" r="1.72" fill="#a29c80" opacity="0.6"/>
<circle cx="70.7" cy="320.1" r="1.93" fill="#a29c80" opacity="0.6"/>
<circle cx="70.6" cy="321.2" r="1.83" fill="#a29c80" opacity="0.6"/>
<circle cx="70.9" cy="322.3" r="1.62" fill="#a29c80" opacity="0.6"/>
<circle cx="70.0" cy="323.5" r="1.97" fill="#a29c80" opacity="0.6"/>
<circle cx="70.7" cy="325.2" r="1.76" fill="#a29c80" opacity="0.6"/>
<circle cx="70.0" cy="326.4" r="1.98" fill="#a29c80" opacity="0.6"/>
<circle cx="70.4" cy="327.8" r="1.98" fill="#a29c80" opacity="0.6"/>
<circle cx="71.1" cy="329.2" r="2.06" fill="#a29c80" opacity="0.6"/>
<circle cx="71.2" cy="330.4" r="1.44" fill="#a29c80" opacity="0.6"/>
<circle cx="70.9" cy="331.8" r="1.61" fill="#a29c80" opacity="0.6"/>
<circle cx="79.7" cy="281.7" r="1.90" fill="#a29c80" opacity="0.6"/>
<circle cx="79.9" cy="283.5" r="1.58" fill="#a29c80" opacity="0.6"/>
<circle cx="80.3" cy="284.9" r="1.98" fill="#a29c80" opacity="0.6"/>
<circle cx="79.9" cy="286.6" r="1.68" fill="#a29c80" opacity="0.6"/>
<circle cx="79.7" cy="287.8" r="2.20" fill="#a29c80" opacity="0.6"/>
<circle cx="80.3" cy="289.5" r="1.41" fill="#a29c80" opacity="0.6"/>
<circle cx="80.1" cy="291.1" r="1.82" fill="#a29c80" opacity="0.6"/>
<circle cx="79.7" cy="292.7" r="1.60" fill="#a29c80" opacity="0.6"/>
<circle cx="79.3" cy="293.8" r="1.43" fill="#a29c80" opacity="0.6"/>
<circle cx="79.6" cy="295.1" r="2.03" fill="#a29c80" opacity="0.6"/>
<circle cx="79.3" cy="296.8" r="1.64" fill="#a29c80" opacity="0.6"/>
<circle cx="78.9" cy="298.2" r="2.11" fill="#a29c80" opacity="0.6"/>
<circle cx="78.5" cy="299.6" r="1.98" fill="#a29c80" opacity="0.6"/>
<circle cx="78.3" cy="301.4" r="2.19" fill="#a29c80" opacity="0.6"/>
<circle cx="78.2" cy="302.4" r="1.61" fill="#a29c80" opacity="0.6"/>
<circle cx="78.8" cy="304.0" r="2.07" fill="#a29c80" opacity="0.6"/>
<circle cx="78.7" cy="305.3" r="1.70" fill="#a29c80" opacity="0.6"/>
<circle cx="78.7" cy="306.4" r="1.97" fill="#a29c80" opacity="0.6"/>
<circle cx="78.5" cy="308.0" r="2.28" fill="#a29c80" opacity="0.6"/>
<circle cx="78.7" cy="309.4" r="2.03" fill="#a29c80" opacity="0.6"/>
<circle cx="78.4" cy="311.1" r="2.05" fill="#a29c80" opacity="0.6"/>
<circle cx="78.4" cy="312.5" r="1.59" fill="#a29c80" opacity="0.6"/>
<circle cx="78.4" cy="314.0" r="2.22" fill="#a29c80" opacity="0.6"/>
<circle cx="78.5" cy="315.1" r="1.50" fill="#a29c80" opacity="0.6"/>
<circle cx="79.0" cy="316.9" r="1.53" fill="#a29c80" opacity="0.6"/>
<circle cx="78.9" cy="317.9" r="2.02" fill="#a29c80" opacity="0.6"/>
<circle cx="79.7" cy="319.4" r="2.06" fill="#a29c80" opacity="0.6"/>
<circle cx="79.8" cy="320.5" r="1.73" fill="#a29c80" opacity="0.6"/>
<circle cx="80.2" cy="322.1" r="2.20" fill="#a29c80" opacity="0.6"/>
<circle cx="80.4" cy="323.2" r="2.22" fill="#a29c80" opacity="0.6"/>
<circle cx="79.8" cy="324.9" r="1.59" fill="#a29c80" opacity="0.6"/>
<circle cx="79.8" cy="326.0" r="2.16" fill="#a29c80" opacity="0.6"/>
<circle cx="80.4" cy="327.7" r="2.14" fill="#a29c80" opacity="0.6"/>
<circle cx="80.1" cy="329.2" r="1.49" fill="#a29c80" opacity="0.6"/>
<circle cx="80.5" cy="330.2" r="1.58" fill="#a29c80" opacity="0.6"/>
<circle cx="80.1" cy="331.5" r="1.42" fill="#a29c80" opacity="0.6"/>
<circle cx="86.5" cy="281.7" r="1.73" fill="#a29c80" opacity="0.6"/>
<circle cx="86.7" cy="283.0" r="1.85" fill="#a29c80" opacity="0.6"/>
<circle cx="86.3" cy="284.6" r="1.43" fill="#a29c80" opacity="0.6"/>
<circle cx="86.1" cy="286.0" r="2.10" fill="#a29c80" opacity="0.6"/>
<circle cx="86.4" cy="287.2" r="1.88" fill="#a29c80" opacity="0.6"/>
<circle cx="86.7" cy="288.4" r="1.48" fill="#a29c80" opacity="0.6"/>
<circle cx="86.1" cy="290.1" r="1.40" fill="#a29c80" opacity="0.6"/>
<circle cx="86.9" cy="291.2" r="2.28" fill="#a29c80" opacity="0.6"/>
<circle cx="86.7" cy="292.2" r="1.84" fill="#a29c80" opacity="0.6"/>
<circle cx="86.6" cy="293.9" r="1.85" fill="#a29c80" opacity="0.6"/>
<circle cx="87.5" cy="295.2" r="1.63" fill="#a29c80" opacity="0.6"/>
<circle cx="87.2" cy="296.9" r="1.59" fill="#a29c80" opacity="0.6"/>
<circle cx="87.6" cy="298.5" r="1.50" fill="#a29c80" opacity="0.6"/>
<circle cx="87.3" cy="300.0" r="2.11" fill="#a29c80" opacity="0.6"/>
<circle cx="88.2" cy="301.5" r="1.97" fill="#a29c80" opacity="0.6"/>
<circle cx="87.9" cy="302.8" r="1.76" fill="#a29c80" opacity="0.6"/>
<circle cx="87.7" cy="304.5" r="2.20" fill="#a29c80" opacity="0.6"/>
<circle cx="87.9" cy="305.6" r="1.64" fill="#a29c80" opacity="0.6"/>
<circle cx="88.2" cy="307.3" r="1.74" fill="#a29c80" opacity="0.6"/>
<circle cx="87.8" cy="309.0" r="1.81" fill="#a29c80" opacity="0.6"/>
<circle cx="88.3" cy="310.4" r="2.08" fill="#a29c80" opacity="0.6"/>
<circle cx="87.7" cy="311.9" r="1.69" fill="#a29c80" opacity="0.6"/>
<circle cx="88.1" cy="313.0" r="2.00" fill="#a29c80" opacity="0.6"/>
<circle cx="87.2" cy="314.6" r="1.79" fill="#a29c80" opacity="0.6"/>
<circle cx="87.4" cy="316.3" r="1.51" fill="#a29c80" opacity="0.6"/>
<circle cx="87.5" cy="317.6" r="1.61" fill="#a29c80" opacity="0.6"/>
<circle cx="86.8" cy="318.8" r="2.03" fill="#a29c80" opacity="0.6"/>
<circle cx="86.4" cy="320.5" r="1.54" fill="#a29c80" opacity="0.6"/>
<circle cx="86.4" cy="321.7" r="1.87" fill="#a29c80" opacity="0.6"/>
<circle cx="86.3" cy="322.8" r="1.57" fill="#a29c80" opacity="0.6"/>
<circle cx="86.5" cy="324.6" r="1.49" fill="#a29c80" opacity="0.6"/>
<circle cx="85.8" cy="326.3" r="1.75" fill="#a29c80" opacity="0.6"/>
<circle cx="86.5" cy="328.1" r="2.06" fill="#a29c80" opacity="0.6"/>
<circle cx="85.9" cy="329.5" r="1.97" fill="#a29c80" opacity="0.6"/>
<circle cx="85.9" cy="330.6" r="1.75" fill="#a29c80" opacity="0.6"/>
<circle cx="86.2" cy="331.6" r="2.11" fill="#a29c80" opacity="0.6"/>
<rect x="34.5" y="275.5" width="28.0" height="60.0" fill="none" stroke="#ffffff" stroke-width="0.95" stroke-dasharray="1 1" stroke-dashoffset="0.5" opacity="0.8"/>
<rect x="64.5" y="275.5" width="28.0" height="60.0" fill="none" stroke="#ffffff" stroke-width="0.95" stroke-dasharray="1 1" stroke-dashoffset="0.5" opacity="0.8"/>
<text x="42" y="300" font-family="'Liberation Serif','Times New Roman',serif" font-style="italic" font-weight="bold" font-size="9" fill="#120d0c" opacity="0.92">-5</text>
<text x="51" y="282" font-family="'Liberation Serif','Times New Roman',serif" font-style="italic" font-weight="bold" font-size="6.5" fill="#120d0c" opacity="0.92">ab</text>
<text x="54" y="288" font-family="'Liberation Serif','Times New Roman',serif" font-style="italic" font-weight="bold" font-size="6.5" fill="#120d0c" opacity="0.92">5ab</text>
<text x="74" y="295" font-family="'Liberation Serif','Times New Roman',serif" font-style="italic" font-weight="bold" font-size="8" fill="#120d0c" opacity="0.92">-4</text>
<text x="48.6" y="310.1" font-family="'Liberation Sans',Arial,sans-serif" font-size="9.2" fill="#f4f4f4" text-anchor="middle">-5</text>
<text x="77.7" y="310.1" font-family="'Liberation Sans',Arial,sans-serif" font-size="9.2" fill="#f4f4f4" text-anchor="middle">-4</text>
<text x="63.5" y="346.1" font-family="'Liberation Serif','Times New Roman',serif" font-size="7.1" font-weight="bold" fill="#f6f6f6" stroke="#f6f6f6" stroke-width="0.2" text-anchor="middle">Lf</text>
<ellipse cx="154.0" cy="308.2" rx="42.0" ry="40.8" fill="url(#rimw)"/>
<ellipse cx="154.0" cy="308.2" rx="41.5" ry="40.3" fill="none" stroke="url(#edg)" stroke-width="1.15"/>
<ellipse cx="154.3" cy="308.59999999999997" rx="39.8" ry="38.599999999999994" fill="none" stroke="#a29e8c" stroke-width="0.6" opacity="0.6"/>
<ellipse cx="154.5" cy="308.9" rx="37.4" ry="36.199999999999996" fill="url(#in5)"/>
<ellipse cx="154.5" cy="308.9" rx="37.4" ry="36.199999999999996" fill="none" stroke="url(#edg)" stroke-width="0.9" opacity="0.85"/>
<circle cx="165.1" cy="313.1" r="0.69" fill="#d8c890"/>
<circle cx="155.7" cy="311.5" r="0.66" fill="#d8c890"/>
<circle cx="171.3" cy="328.1" r="0.67" fill="#d8c890"/>
<circle cx="167.0" cy="319.5" r="0.67" fill="#d8c890"/>
<circle cx="158.0" cy="318.0" r="0.85" fill="#d8c890"/>
<circle cx="172.2" cy="316.8" r="0.84" fill="#d8c890"/>
<circle cx="169.7" cy="313.6" r="0.68" fill="#d8c890"/>
<circle cx="160.2" cy="312.9" r="0.54" fill="#d8c890"/>
<circle cx="163.0" cy="321.3" r="0.79" fill="#d8c890"/>
<circle cx="168.4" cy="292.3" r="0.67" fill="#d8c890"/>
<circle cx="163.9" cy="312.5" r="0.66" fill="#d8c890"/>
<circle cx="169.6" cy="329.3" r="0.57" fill="#d8c890"/>
<circle cx="169.1" cy="321.0" r="0.66" fill="#d8c890"/>
<circle cx="164.8" cy="331.7" r="0.52" fill="#d8c890"/>
<circle cx="166.2" cy="287.4" r="0.81" fill="#d8c890"/>
<circle cx="176.5" cy="306.9" r="0.54" fill="#d8c890"/>
<circle cx="167.0" cy="308.1" r="0.79" fill="#d8c890"/>
<circle cx="165.4" cy="313.5" r="0.83" fill="#d8c890"/>
<circle cx="165.6" cy="301.0" r="0.88" fill="#d8c890"/>
<circle cx="157.5" cy="315.9" r="0.66" fill="#d8c890"/>
<circle cx="171.9" cy="285.4" r="0.89" fill="#d8c890"/>
<circle cx="161.3" cy="281.8" r="0.61" fill="#d8c890"/>
<circle cx="162.4" cy="279.4" r="0.67" fill="#d8c890"/>
<circle cx="163.0" cy="316.7" r="0.64" fill="#d8c890"/>
<circle cx="158.9" cy="290.9" r="0.80" fill="#d8c890"/>
<circle cx="176.5" cy="307.4" r="0.59" fill="#d8c890"/>
<circle cx="143.3" cy="300.0" r="0.58" fill="#d8c890"/>
<circle cx="126.2" cy="320.9" r="0.82" fill="#d8c890"/>
<circle cx="139.0" cy="304.2" r="0.72" fill="#d8c890"/>
<circle cx="128.6" cy="331.1" r="0.64" fill="#d8c890"/>
<circle cx="139.1" cy="323.2" r="0.83" fill="#d8c890"/>
<circle cx="134.8" cy="294.7" r="0.72" fill="#d8c890"/>
<circle cx="126.1" cy="324.1" r="0.64" fill="#d8c890"/>
<circle cx="144.5" cy="293.2" r="0.65" fill="#d8c890"/>
<rect x="121.5" y="275.5" width="28.0" height="61.0" fill="none" stroke="#ffffff" stroke-width="0.95" stroke-dasharray="1 1" stroke-dashoffset="0.5" opacity="0.8"/>
<rect x="150.5" y="275.5" width="29.0" height="61.0" fill="none" stroke="#ffffff" stroke-width="0.95" stroke-dasharray="1 1" stroke-dashoffset="0.5" opacity="0.8"/>
<text x="147" y="285" font-family="'Liberation Serif','Times New Roman',serif" font-style="italic" font-weight="bold" font-size="8.5" fill="#120d0c" opacity="0.92">Lf/N</text>
<text x="127" y="301" font-family="'Liberation Serif','Times New Roman',serif" font-style="italic" font-weight="bold" font-size="9" fill="#120d0c" opacity="0.92">-3</text>
<text x="157" y="298" font-family="'Liberation Serif','Times New Roman',serif" font-style="italic" font-weight="bold" font-size="8" fill="#120d0c" opacity="0.92">-2</text>
<text x="134.8" y="310.1" font-family="'Liberation Sans',Arial,sans-serif" font-size="9.2" fill="#f4f4f4" text-anchor="middle">-3</text>
<text x="165.2" y="310.1" font-family="'Liberation Sans',Arial,sans-serif" font-size="9.2" fill="#f4f4f4" text-anchor="middle">-2</text>
<text x="151.0" y="346.40000000000003" font-family="'Liberation Serif','Times New Roman',serif" font-size="7.1" font-weight="bold" fill="#f6f6f6" stroke="#f6f6f6" stroke-width="0.2" text-anchor="middle">LMSH</text>
<ellipse cx="236.0" cy="306.7" rx="41.0" ry="41.0" fill="url(#rimg)"/>
<ellipse cx="236.0" cy="306.7" rx="40.5" ry="40.5" fill="none" stroke="url(#edg)" stroke-width="1.15"/>
<ellipse cx="236.3" cy="307.09999999999997" rx="38.8" ry="38.8" fill="none" stroke="#a29e8c" stroke-width="0.6" opacity="0.6"/>
<ellipse cx="236.5" cy="307.4" rx="36.4" ry="36.4" fill="url(#in6)"/>
<ellipse cx="236.5" cy="307.4" rx="36.4" ry="36.4" fill="none" stroke="url(#edg)" stroke-width="0.9" opacity="0.85"/>
<clipPath id="ic6"><ellipse cx="236.5" cy="307.4" rx="35.8" ry="35.8"/></clipPath>
<g clip-path="url(#ic6)"><polygon points="236,350 262,300 270,288 290,280 290,350" fill="#000" opacity="0.24"/><polygon points="190,260 236,260 226,310 214,350 190,350" fill="#fff" opacity="0.05"/></g>
<rect x="209.5" y="275.5" width="27.0" height="61.0" fill="none" stroke="#ffffff" stroke-width="0.95" stroke-dasharray="1 1" stroke-dashoffset="0.5" opacity="0.8"/>
<rect x="239.5" y="275.5" width="27.0" height="61.0" fill="none" stroke="#ffffff" stroke-width="0.95" stroke-dasharray="1 1" stroke-dashoffset="0.5" opacity="0.8"/>
<text x="228" y="285" font-family="'Liberation Serif','Times New Roman',serif" font-style="italic" font-weight="bold" font-size="8" fill="#120d0c" opacity="0.92">NZ</text>
<text x="212" y="293" font-family="'Liberation Serif','Times New Roman',serif" font-style="italic" font-weight="bold" font-size="8" fill="#120d0c" opacity="0.92">-3</text>
<text x="242" y="294" font-family="'Liberation Serif','Times New Roman',serif" font-style="italic" font-weight="bold" font-size="8" fill="#120d0c" opacity="0.92">-2</text>
<text x="223.6" y="310.1" font-family="'Liberation Sans',Arial,sans-serif" font-size="9.2" fill="#f4f4f4" text-anchor="middle">-3</text>
<text x="252.7" y="310.1" font-family="'Liberation Sans',Arial,sans-serif" font-size="9.2" fill="#f4f4f4" text-anchor="middle">-2</text>
<text x="239.2" y="346.40000000000003" font-family="'Liberation Serif','Times New Roman',serif" font-size="7.1" font-weight="bold" fill="#f6f6f6" stroke="#f6f6f6" stroke-width="0.2" text-anchor="middle">NZ2114</text>
<ellipse cx="317.0" cy="307.8" rx="40.8" ry="40.8" fill="url(#rimw)"/>
<ellipse cx="317.0" cy="307.8" rx="40.3" ry="40.3" fill="none" stroke="url(#edg)" stroke-width="1.15"/>
<ellipse cx="317.3" cy="308.2" rx="38.599999999999994" ry="38.599999999999994" fill="none" stroke="#a29e8c" stroke-width="0.6" opacity="0.6"/>
<ellipse cx="317.5" cy="308.5" rx="36.199999999999996" ry="36.199999999999996" fill="url(#in7)"/>
<ellipse cx="317.5" cy="308.5" rx="36.199999999999996" ry="36.199999999999996" fill="none" stroke="url(#edg)" stroke-width="0.9" opacity="0.85"/>
<circle cx="296.4" cy="283.7" r="2.07" fill="#c4b891" opacity="0.9"/>
<circle cx="296.6" cy="284.7" r="2.15" fill="#c4b891" opacity="0.9"/>
<circle cx="296.2" cy="285.9" r="2.33" fill="#c4b891" opacity="0.9"/>
<circle cx="296.6" cy="287.2" r="2.49" fill="#c4b891" opacity="0.9"/>
<circle cx="296.9" cy="288.5" r="2.67" fill="#c4b891" opacity="0.9"/>
<circle cx="296.9" cy="289.6" r="2.72" fill="#c4b891" opacity="0.9"/>
<circle cx="296.3" cy="291.2" r="2.65" fill="#c4b891" opacity="0.9"/>
<circle cx="296.4" cy="292.7" r="1.91" fill="#c4b891" opacity="0.9"/>
<circle cx="297.2" cy="294.5" r="2.13" fill="#c4b891" opacity="0.9"/>
<circle cx="296.9" cy="295.6" r="2.11" fill="#c4b891" opacity="0.9"/>
<circle cx="297.3" cy="297.2" r="2.04" fill="#c4b891" opacity="0.9"/>
<circle cx="298.0" cy="298.9" r="2.05" fill="#c4b891" opacity="0.9"/>
<circle cx="298.0" cy="300.6" r="2.60" fill="#c4b891" opacity="0.9"/>
<circle cx="298.5" cy="302.1" r="2.61" fill="#c4b891" opacity="0.9"/>
<circle cx="297.9" cy="303.8" r="2.52" fill="#c4b891" opacity="0.9"/>
<circle cx="298.6" cy="305.2" r="2.29" fill="#c4b891" opacity="0.9"/>
<circle cx="298.4" cy="306.9" r="2.14" fill="#c4b891" opacity="0.9"/>
<circle cx="298.0" cy="308.1" r="2.34" fill="#c4b891" opacity="0.9"/>
<circle cx="298.3" cy="309.2" r="2.03" fill="#c4b891" opacity="0.9"/>
<circle cx="298.3" cy="310.6" r="2.39" fill="#c4b891" opacity="0.9"/>
<circle cx="297.7" cy="312.3" r="2.66" fill="#c4b891" opacity="0.9"/>
<circle cx="298.1" cy="313.6" r="2.50" fill="#c4b891" opacity="0.9"/>
<circle cx="297.7" cy="315.3" r="2.28" fill="#c4b891" opacity="0.9"/>
<circle cx="297.2" cy="317.1" r="2.47" fill="#c4b891" opacity="0.9"/>
<circle cx="296.9" cy="318.6" r="2.45" fill="#c4b891" opacity="0.9"/>
<circle cx="297.6" cy="320.1" r="2.20" fill="#c4b891" opacity="0.9"/>
<circle cx="297.0" cy="321.9" r="2.34" fill="#c4b891" opacity="0.9"/>
<circle cx="306.0" cy="283.7" r="2.46" fill="#c4b891" opacity="0.9"/>
<circle cx="306.0" cy="285.0" r="2.23" fill="#c4b891" opacity="0.9"/>
<circle cx="305.4" cy="286.4" r="2.59" fill="#c4b891" opacity="0.9"/>
<circle cx="305.2" cy="287.5" r="2.28" fill="#c4b891" opacity="0.9"/>
<circle cx="305.4" cy="289.0" r="2.16" fill="#c4b891" opacity="0.9"/>
<circle cx="304.8" cy="290.6" r="2.35" fill="#c4b891" opacity="0.9"/>
<circle cx="304.8" cy="291.8" r="2.78" fill="#c4b891" opacity="0.9"/>
<circle cx="305.0" cy="293.4" r="2.20" fill="#c4b891" opacity="0.9"/>
<circle cx="304.5" cy="294.6" r="2.43" fill="#c4b891" opacity="0.9"/>
<circle cx="305.0" cy="296.1" r="1.94" fill="#c4b891" opacity="0.9"/>
<circle cx="305.1" cy="297.7" r="2.39" fill="#c4b891" opacity="0.9"/>
<circle cx="304.6" cy="298.7" r="1.91" fill="#c4b891" opacity="0.9"/>
<circle cx="305.3" cy="299.9" r="2.45" fill="#c4b891" opacity="0.9"/>
<circle cx="305.3" cy="301.4" r="2.72" fill="#c4b891" opacity="0.9"/>
<circle cx="305.3" cy="302.9" r="2.46" fill="#c4b891" opacity="0.9"/>
<circle cx="305.5" cy="304.5" r="2.51" fill="#c4b891" opacity="0.9"/>
<circle cx="305.7" cy="305.6" r="2.31" fill="#c4b891" opacity="0.9"/>
<circle cx="305.4" cy="307.2" r="2.06" fill="#c4b891" opacity="0.9"/>
<circle cx="306.2" cy="308.3" r="2.72" fill="#c4b891" opacity="0.9"/>
<circle cx="306.0" cy="309.8" r="2.64" fill="#c4b891" opacity="0.9"/>
<circle cx="306.4" cy="311.4" r="2.13" fill="#c4b891" opacity="0.9"/>
<circle cx="306.4" cy="312.7" r="2.19" fill="#c4b891" opacity="0.9"/>
<circle cx="306.7" cy="314.0" r="2.74" fill="#c4b891" opacity="0.9"/>
<circle cx="306.7" cy="315.1" r="1.94" fill="#c4b891" opacity="0.9"/>
<circle cx="307.0" cy="316.2" r="2.42" fill="#c4b891" opacity="0.9"/>
<circle cx="306.6" cy="317.9" r="1.91" fill="#c4b891" opacity="0.9"/>
<circle cx="306.7" cy="319.2" r="2.74" fill="#c4b891" opacity="0.9"/>
<circle cx="306.5" cy="321.0" r="2.27" fill="#c4b891" opacity="0.9"/>
<circle cx="306.6" cy="322.1" r="2.09" fill="#c4b891" opacity="0.9"/>
<circle cx="305.9" cy="323.2" r="1.90" fill="#c4b891" opacity="0.9"/>
<circle cx="305.8" cy="324.7" r="2.77" fill="#c4b891" opacity="0.9"/>
<circle cx="306.4" cy="325.8" r="2.02" fill="#c4b891" opacity="0.9"/>
<circle cx="314.6" cy="283.7" r="2.56" fill="#c4b891" opacity="0.9"/>
<circle cx="314.5" cy="284.8" r="2.60" fill="#c4b891" opacity="0.9"/>
<circle cx="315.3" cy="286.4" r="2.56" fill="#c4b891" opacity="0.9"/>
<circle cx="315.1" cy="287.5" r="2.54" fill="#c4b891" opacity="0.9"/>
<circle cx="315.4" cy="288.9" r="2.13" fill="#c4b891" opacity="0.9"/>
<circle cx="315.1" cy="290.6" r="1.91" fill="#c4b891" opacity="0.9"/>
<circle cx="314.9" cy="291.6" r="2.64" fill="#c4b891" opacity="0.9"/>
<circle cx="314.5" cy="292.7" r="2.56" fill="#c4b891" opacity="0.9"/>
<circle cx="314.9" cy="293.8" r="2.34" fill="#c4b891" opacity="0.9"/>
<circle cx="314.3" cy="294.9" r="2.42" fill="#c4b891" opacity="0.9"/>
<circle cx="314.4" cy="296.2" r="2.03" fill="#c4b891" opacity="0.9"/>
<circle cx="313.9" cy="297.9" r="2.48" fill="#c4b891" opacity="0.9"/>
<circle cx="313.7" cy="299.4" r="2.25" fill="#c4b891" opacity="0.9"/>
<circle cx="314.0" cy="301.0" r="2.61" fill="#c4b891" opacity="0.9"/>
<circle cx="313.2" cy="302.5" r="1.95" fill="#c4b891" opacity="0.9"/>
<circle cx="313.4" cy="304.2" r="2.64" fill="#c4b891" opacity="0.9"/>
<circle cx="313.2" cy="305.5" r="2.78" fill="#c4b891" opacity="0.9"/>
<circle cx="313.1" cy="307.2" r="2.18" fill="#c4b891" opacity="0.9"/>
<circle cx="313.4" cy="308.5" r="2.24" fill="#c4b891" opacity="0.9"/>
<circle cx="313.1" cy="310.1" r="2.71" fill="#c4b891" opacity="0.9"/>
<circle cx="312.8" cy="311.7" r="1.90" fill="#c4b891" opacity="0.9"/>
<circle cx="313.0" cy="312.9" r="2.43" fill="#c4b891" opacity="0.9"/>
<circle cx="313.6" cy="314.6" r="1.94" fill="#c4b891" opacity="0.9"/>
<circle cx="313.8" cy="316.2" r="2.68" fill="#c4b891" opacity="0.9"/>
<circle cx="313.4" cy="317.7" r="2.67" fill="#c4b891" opacity="0.9"/>
<circle cx="314.0" cy="319.3" r="2.72" fill="#c4b891" opacity="0.9"/>
<circle cx="313.6" cy="320.6" r="2.40" fill="#c4b891" opacity="0.9"/>
<circle cx="327.3" cy="283.7" r="2.74" fill="#c4b891" opacity="0.9"/>
<circle cx="327.0" cy="284.9" r="2.51" fill="#c4b891" opacity="0.9"/>
<circle cx="326.6" cy="286.3" r="2.13" fill="#c4b891" opacity="0.9"/>
<circle cx="327.1" cy="287.9" r="2.31" fill="#c4b891" opacity="0.9"/>
<circle cx="327.2" cy="288.9" r="2.59" fill="#c4b891" opacity="0.9"/>
<circle cx="327.0" cy="290.1" r="2.71" fill="#c4b891" opacity="0.9"/>
<circle cx="327.0" cy="291.8" r="2.33" fill="#c4b891" opacity="0.9"/>
<circle cx="326.8" cy="293.3" r="2.07" fill="#c4b891" opacity="0.9"/>
<circle cx="327.4" cy="294.4" r="2.23" fill="#c4b891" opacity="0.9"/>
<circle cx="327.3" cy="295.9" r="2.37" fill="#c4b891" opacity="0.9"/>
<circle cx="327.1" cy="297.0" r="2.80" fill="#c4b891" opacity="0.9"/>
<circle cx="327.3" cy="298.3" r="2.47" fill="#c4b891" opacity="0.9"/>
<circle cx="327.6" cy="299.9" r="2.44" fill="#c4b891" opacity="0.9"/>
<circle cx="328.2" cy="301.2" r="1.92" fill="#c4b891" opacity="0.9"/>
<circle cx="328.8" cy="302.2" r="2.68" fill="#c4b891" opacity="0.9"/>
<circle cx="328.5" cy="303.6" r="2.14" fill="#c4b891" opacity="0.9"/>
<circle cx="328.5" cy="305.3" r="2.75" fill="#c4b891" opacity="0.9"/>
<circle cx="329.1" cy="306.9" r="2.77" fill="#c4b891" opacity="0.9"/>
<circle cx="328.3" cy="308.1" r="2.08" fill="#c4b891" opacity="0.9"/>
<circle cx="328.4" cy="309.2" r="1.95" fill="#c4b891" opacity="0.9"/>
<circle cx="329.2" cy="310.7" r="2.31" fill="#c4b891" opacity="0.9"/>
<circle cx="329.2" cy="312.4" r="1.96" fill="#c4b891" opacity="0.9"/>
<circle cx="328.6" cy="313.9" r="2.01" fill="#c4b891" opacity="0.9"/>
<circle cx="328.3" cy="315.7" r="2.41" fill="#c4b891" opacity="0.9"/>
<circle cx="328.8" cy="317.2" r="2.50" fill="#c4b891" opacity="0.9"/>
<circle cx="328.1" cy="318.5" r="2.04" fill="#c4b891" opacity="0.9"/>
<circle cx="328.4" cy="320.3" r="2.10" fill="#c4b891" opacity="0.9"/>
<circle cx="327.6" cy="321.3" r="2.22" fill="#c4b891" opacity="0.9"/>
<circle cx="337.1" cy="283.7" r="1.94" fill="#c4b891" opacity="0.9"/>
<circle cx="336.8" cy="285.3" r="2.48" fill="#c4b891" opacity="0.9"/>
<circle cx="335.9" cy="287.1" r="2.03" fill="#c4b891" opacity="0.9"/>
<circle cx="336.6" cy="288.7" r="2.51" fill="#c4b891" opacity="0.9"/>
<circle cx="336.0" cy="290.0" r="2.58" fill="#c4b891" opacity="0.9"/>
<circle cx="335.6" cy="291.0" r="2.13" fill="#c4b891" opacity="0.9"/>
<circle cx="335.6" cy="292.1" r="2.05" fill="#c4b891" opacity="0.9"/>
<circle cx="335.1" cy="293.3" r="2.51" fill="#c4b891" opacity="0.9"/>
<circle cx="335.6" cy="294.3" r="2.08" fill="#c4b891" opacity="0.9"/>
<circle cx="335.7" cy="295.4" r="2.10" fill="#c4b891" opacity="0.9"/>
<circle cx="335.5" cy="297.1" r="2.70" fill="#c4b891" opacity="0.9"/>
<circle cx="335.0" cy="298.2" r="1.99" fill="#c4b891" opacity="0.9"/>
<circle cx="335.3" cy="300.0" r="2.47" fill="#c4b891" opacity="0.9"/>
<circle cx="334.8" cy="301.3" r="2.64" fill="#c4b891" opacity="0.9"/>
<circle cx="335.1" cy="302.7" r="2.03" fill="#c4b891" opacity="0.9"/>
<circle cx="334.6" cy="303.9" r="2.54" fill="#c4b891" opacity="0.9"/>
<circle cx="334.8" cy="305.3" r="2.68" fill="#c4b891" opacity="0.9"/>
<circle cx="335.1" cy="306.6" r="2.04" fill="#c4b891" opacity="0.9"/>
<circle cx="335.7" cy="307.8" r="2.20" fill="#c4b891" opacity="0.9"/>
<circle cx="335.5" cy="308.9" r="2.19" fill="#c4b891" opacity="0.9"/>
<circle cx="335.3" cy="310.6" r="2.78" fill="#c4b891" opacity="0.9"/>
<circle cx="336.3" cy="311.7" r="2.50" fill="#c4b891" opacity="0.9"/>
<circle cx="336.0" cy="312.8" r="2.16" fill="#c4b891" opacity="0.9"/>
<circle cx="335.9" cy="314.0" r="2.23" fill="#c4b891" opacity="0.9"/>
<circle cx="336.9" cy="315.8" r="2.73" fill="#c4b891" opacity="0.9"/>
<circle cx="336.4" cy="316.9" r="2.71" fill="#c4b891" opacity="0.9"/>
<circle cx="336.9" cy="318.0" r="2.16" fill="#c4b891" opacity="0.9"/>
<circle cx="336.3" cy="319.7" r="2.63" fill="#c4b891" opacity="0.9"/>
<circle cx="336.5" cy="321.0" r="1.90" fill="#c4b891" opacity="0.9"/>
<circle cx="337.0" cy="322.7" r="2.07" fill="#c4b891" opacity="0.9"/>
<circle cx="337.3" cy="324.0" r="2.10" fill="#c4b891" opacity="0.9"/>
<circle cx="336.5" cy="325.5" r="2.06" fill="#c4b891" opacity="0.9"/>
<circle cx="344.6" cy="283.7" r="1.97" fill="#c4b891" opacity="0.9"/>
<circle cx="345.0" cy="284.8" r="2.35" fill="#c4b891" opacity="0.9"/>
<circle cx="344.7" cy="286.0" r="2.45" fill="#c4b891" opacity="0.9"/>
<circle cx="345.3" cy="287.6" r="2.42" fill="#c4b891" opacity="0.9"/>
<circle cx="344.6" cy="288.7" r="2.56" fill="#c4b891" opacity="0.9"/>
<circle cx="345.2" cy="290.0" r="1.95" fill="#c4b891" opacity="0.9"/>
<circle cx="344.7" cy="291.7" r="2.66" fill="#c4b891" opacity="0.9"/>
<circle cx="344.7" cy="293.4" r="1.91" fill="#c4b891" opacity="0.9"/>
<circle cx="344.5" cy="295.1" r="2.68" fill="#c4b891" opacity="0.9"/>
<circle cx="344.0" cy="296.3" r="2.65" fill="#c4b891" opacity="0.9"/>
<circle cx="343.8" cy="297.6" r="2.23" fill="#c4b891" opacity="0.9"/>
<circle cx="343.5" cy="299.1" r="2.37" fill="#c4b891" opacity="0.9"/>
<circle cx="343.8" cy="300.5" r="2.01" fill="#c4b891" opacity="0.9"/>
<circle cx="343.9" cy="302.0" r="2.68" fill="#c4b891" opacity="0.9"/>
<circle cx="343.6" cy="303.3" r="2.24" fill="#c4b891" opacity="0.9"/>
<circle cx="342.8" cy="304.9" r="2.69" fill="#c4b891" opacity="0.9"/>
<circle cx="343.1" cy="306.6" r="2.36" fill="#c4b891" opacity="0.9"/>
<circle cx="343.1" cy="308.1" r="1.92" fill="#c4b891" opacity="0.9"/>
<circle cx="342.7" cy="309.8" r="2.06" fill="#c4b891" opacity="0.9"/>
<circle cx="342.8" cy="310.9" r="2.64" fill="#c4b891" opacity="0.9"/>
<circle cx="342.7" cy="311.9" r="2.53" fill="#c4b891" opacity="0.9"/>
<circle cx="342.7" cy="313.1" r="2.44" fill="#c4b891" opacity="0.9"/>
<circle cx="343.3" cy="314.6" r="2.53" fill="#c4b891" opacity="0.9"/>
<circle cx="343.7" cy="315.6" r="2.55" fill="#c4b891" opacity="0.9"/>
<circle cx="343.1" cy="316.7" r="2.34" fill="#c4b891" opacity="0.9"/>
<circle cx="343.5" cy="318.1" r="2.01" fill="#c4b891" opacity="0.9"/>
<circle cx="343.5" cy="319.4" r="2.43" fill="#c4b891" opacity="0.9"/>
<circle cx="343.7" cy="321.1" r="2.42" fill="#c4b891" opacity="0.9"/>
<rect x="291.5" y="275.5" width="28.0" height="61.0" fill="none" stroke="#ffffff" stroke-width="0.95" stroke-dasharray="1 1" stroke-dashoffset="0.5" opacity="0.8"/>
<rect x="321.5" y="275.5" width="28.0" height="61.0" fill="none" stroke="#ffffff" stroke-width="0.95" stroke-dasharray="1 1" stroke-dashoffset="0.5" opacity="0.8"/>
<text x="308" y="284" font-family="'Liberation Serif','Times New Roman',serif" font-style="italic" font-weight="bold" font-size="7.5" fill="#120d0c" opacity="0.92">V/ACS</text>
<text x="311" y="290" font-family="'Liberation Serif','Times New Roman',serif" font-style="italic" font-weight="bold" font-size="6.5" fill="#120d0c" opacity="0.92">5ab</text>
<text x="295" y="302" font-family="'Liberation Serif','Times New Roman',serif" font-style="italic" font-weight="bold" font-size="9" fill="#120d0c" opacity="0.92">-3</text>
<text x="326" y="297" font-family="'Liberation Serif','Times New Roman',serif" font-style="italic" font-weight="bold" font-size="8" fill="#120d0c" opacity="0.92">-2</text>
<text x="306.0" y="310.1" font-family="'Liberation Sans',Arial,sans-serif" font-size="9.2" fill="#f4f4f4" text-anchor="middle">-3</text>
<text x="335.1" y="310.1" font-family="'Liberation Sans',Arial,sans-serif" font-size="9.2" fill="#f4f4f4" text-anchor="middle">-2</text>
<text x="321.0" y="346.40000000000003" font-family="'Liberation Serif','Times New Roman',serif" font-size="7.1" font-weight="bold" fill="#f6f6f6" stroke="#f6f6f6" stroke-width="0.2" text-anchor="middle">3%HACC</text>
</g>
<text x="2.9" y="14.3" font-family="'Liberation Serif','Times New Roman',serif" font-size="19" font-weight="bold" text-anchor="start" fill="#000" stroke="#000" stroke-width="0.1">a</text>
<text x="193.0" y="15.2" font-family="'Liberation Serif','Times New Roman',serif" font-size="19" font-weight="bold" text-anchor="start" fill="#000" stroke="#000" stroke-width="0.1">b</text>
<text x="383.6" y="15.6" font-family="'Liberation Serif','Times New Roman',serif" font-size="19" font-weight="bold" text-anchor="start" fill="#000" stroke="#000" stroke-width="0.1">c</text>
<text x="3.4" y="172.2" font-family="'Liberation Serif','Times New Roman',serif" font-size="19" font-weight="bold" text-anchor="start" fill="#000" stroke="#000" stroke-width="0.1">d</text>
<text x="391.4" y="172.3" font-family="'Liberation Serif','Times New Roman',serif" font-size="19" font-weight="bold" text-anchor="start" fill="#000" stroke="#000" stroke-width="0.1">e</text>
<circle cx="23.50" cy="19.00" r="1.2" fill="#14c21c"/>
<text x="34.1" y="21.2" font-family="'Liberation Serif','Times New Roman',serif" font-size="6.8" font-weight="normal" text-anchor="start" fill="#000" stroke="#000" stroke-width="0.12">1.5% LMSH Sheer stress</text>
<rect x="111.20" y="17.70" width="2.2" height="2.2" fill="#14c21c"/>
<text x="122.6" y="21.2" font-family="'Liberation Serif','Times New Roman',serif" font-size="6.8" font-weight="normal" text-anchor="start" fill="#000" stroke="#000" stroke-width="0.12">1.5% LMSH Viscosity</text>
<polygon points="22.30,31.58 24.70,31.58 23.50,29.42" fill="#9412e6"/>
<text x="34.1" y="32.6" font-family="'Liberation Serif','Times New Roman',serif" font-size="6.8" font-weight="normal" text-anchor="start" fill="#000" stroke="#000" stroke-width="0.12">1% LMSH Sheer stress</text>
<polygon points="111.10,29.22 113.50,29.22 112.30,31.38" fill="#9412e6"/>
<text x="122.6" y="32.6" font-family="'Liberation Serif','Times New Roman',serif" font-size="6.8" font-weight="normal" text-anchor="start" fill="#000" stroke="#000" stroke-width="0.12">1% LMSH Viscosity</text>
<line x1="27.3" y1="42.0" x2="27.3" y2="133.0" stroke="#333" stroke-width="1"/>
<line x1="24.7" y1="132.5" x2="27.3" y2="132.5" stroke="#333" stroke-width="1"/>
<text x="23.2" y="134.9" font-family="'Liberation Serif','Times New Roman',serif" font-size="6.9" font-weight="bold" text-anchor="end" fill="#000" stroke="#000" stroke-width="0.1">0</text>
<line x1="24.7" y1="114.4" x2="27.3" y2="114.4" stroke="#333" stroke-width="1"/>
<text x="23.2" y="116.80000000000001" font-family="'Liberation Serif','Times New Roman',serif" font-size="6.9" font-weight="bold" text-anchor="end" fill="#000" stroke="#000" stroke-width="0.1">2</text>
<line x1="24.7" y1="96.3" x2="27.3" y2="96.3" stroke="#333" stroke-width="1"/>
<text x="23.2" y="98.7" font-family="'Liberation Serif','Times New Roman',serif" font-size="6.9" font-weight="bold" text-anchor="end" fill="#000" stroke="#000" stroke-width="0.1">4</text>
<line x1="24.7" y1="78.2" x2="27.3" y2="78.2" stroke="#333" stroke-width="1"/>
<text x="23.2" y="80.60000000000001" font-family="'Liberation Serif','Times New Roman',serif" font-size="6.9" font-weight="bold" text-anchor="end" fill="#000" stroke="#000" stroke-width="0.1">6</text>
<line x1="24.7" y1="60.099999999999994" x2="27.3" y2="60.099999999999994" stroke="#333" stroke-width="1"/>
<text x="23.2" y="62.49999999999999" font-family="'Liberation Serif','Times New Roman',serif" font-size="6.9" font-weight="bold" text-anchor="end" fill="#000" stroke="#000" stroke-width="0.1">8</text>
<line x1="24.7" y1="42.0" x2="27.3" y2="42.0" stroke="#333" stroke-width="1"/>
<text x="23.2" y="44.4" font-family="'Liberation Serif','Times New Roman',serif" font-size="6.9" font-weight="bold" text-anchor="end" fill="#000" stroke="#000" stroke-width="0.1">10</text>
<line x1="163.2" y1="42.0" x2="163.2" y2="133.0" stroke="#333" stroke-width="1"/>
<line x1="163.2" y1="132.5" x2="165.79999999999998" y2="132.5" stroke="#333" stroke-width="1"/>
<text x="167.6" y="134.9" font-family="'Liberation Serif','Times New Roman',serif" font-size="6.9" font-weight="bold" text-anchor="start" fill="#000" stroke="#000" stroke-width="0.1">0</text>
<line x1="163.2" y1="109.875" x2="165.79999999999998" y2="109.875" stroke="#333" stroke-width="1"/>
<text x="167.6" y="112.275" font-family="'Liberation Serif','Times New Roman',serif" font-size="6.9" font-weight="bold" text-anchor="start" fill="#000" stroke="#000" stroke-width="0.1">10,000</text>
<line x1="163.2" y1="87.25" x2="165.79999999999998" y2="87.25" stroke="#333" stroke-width="1"/>
<text x="167.6" y="89.65" font-family="'Liberation Serif','Times New Roman',serif" font-size="6.9" font-weight="bold" text-anchor="start" fill="#000" stroke="#000" stroke-width="0.1">20,000</text>
<line x1="163.2" y1="64.625" x2="165.79999999999998" y2="64.625" stroke="#333" stroke-width="1"/>
<text x="167.6" y="67.025" font-family="'Liberation Serif','Times New Roman',serif" font-size="6.9" font-weight="bold" text-anchor="start" fill="#000" stroke="#000" stroke-width="0.1">30,000</text>
<line x1="163.2" y1="42.0" x2="165.79999999999998" y2="42.0" stroke="#333" stroke-width="1"/>
<text x="167.6" y="44.4" font-family="'Liberation Serif','Times New Roman',serif" font-size="6.9" font-weight="bold" text-anchor="start" fill="#000" stroke="#000" stroke-width="0.1">40,000</text>
<line x1="27.3" y1="132.5" x2="163.2" y2="132.5" stroke="#333" stroke-width="1.1"/>
<line x1="27.3" y1="132.5" x2="27.3" y2="135.1" stroke="#333" stroke-width="1"/>
<text x="27.3" y="144" font-family="'Liberation Serif','Times New Roman',serif" font-size="6.9" font-weight="bold" text-anchor="middle" fill="#000" stroke="#000" stroke-width="0.1">0.01</text>
<line x1="61.27499999999999" y1="132.5" x2="61.27499999999999" y2="135.1" stroke="#333" stroke-width="1"/>
<text x="61.27499999999999" y="144" font-family="'Liberation Serif','Times New Roman',serif" font-size="6.9" font-weight="bold" text-anchor="middle" fill="#000" stroke="#000" stroke-width="0.1">0.1</text>
<line x1="95.24999999999999" y1="132.5" x2="95.24999999999999" y2="135.1" stroke="#333" stroke-width="1"/>
<text x="95.24999999999999" y="144" font-family="'Liberation Serif','Times New Roman',serif" font-size="6.9" font-weight="bold" text-anchor="middle" fill="#000" stroke="#000" stroke-width="0.1">1</text>
<line x1="129.225" y1="132.5" x2="129.225" y2="135.1" stroke="#333" stroke-width="1"/>
<text x="129.225" y="144" font-family="'Liberation Serif','Times New Roman',serif" font-size="6.9" font-weight="bold" text-anchor="middle" fill="#000" stroke="#000" stroke-width="0.1">10</text>
<line x1="163.2" y1="132.5" x2="163.2" y2="135.1" stroke="#333" stroke-width="1"/>
<text x="163.2" y="144" font-family="'Liberation Serif','Times New Roman',serif" font-size="6.9" font-weight="bold" text-anchor="middle" fill="#000" stroke="#000" stroke-width="0.1">100</text>
<text x="91.1" y="156.4" font-family="'Liberation Serif','Times New Roman',serif" font-size="6.9" font-weight="bold" text-anchor="start" fill="#000" stroke="#000" stroke-width="0.1">s<tspan font-size="5.2" dx="0.9" dy="-2.5">-1</tspan></text>
<text x="8.6" y="87.5" font-family="'Liberation Serif','Times New Roman',serif" font-size="6.4" font-weight="bold" text-anchor="middle" fill="#000" stroke="#000" stroke-width="0.1" transform="rotate(-90 8.6 87.5)" dy="2.2">Pa</text>
<text x="195.2" y="87.7" font-family="'Liberation Serif','Times New Roman',serif" font-size="6.9" font-weight="bold" text-anchor="middle" fill="#000" stroke="#000" stroke-width="0.1" transform="rotate(90 195.2 87.7)" dy="2.2">mPA·s</text>
<polygon points="25.75,101.38 28.25,101.38 27.00,103.62" fill="#9412e6"/>
<polygon points="31.42,100.17 33.92,100.17 32.67,102.42" fill="#9412e6"/>
<polygon points="37.08,104.17 39.58,104.17 38.33,106.42" fill="#9412e6"/>
<polygon points="42.75,109.58 45.25,109.58 44.00,111.83" fill="#9412e6"/>
<polygon points="48.42,113.17 50.92,113.17 49.67,115.42" fill="#9412e6"/>
<polygon points="54.08,116.97 56.58,116.97 55.33,119.22" fill="#9412e6"/>
<polygon points="59.75,120.17 62.25,120.17 61.00,122.42" fill="#9412e6"/>
<polygon points="65.42,122.88 67.92,122.88 66.67,125.12" fill="#9412e6"/>
<polygon points="71.08,125.17 73.58,125.17 72.33,127.42" fill="#9412e6"/>
<polygon points="76.75,126.38 79.25,126.38 78.00,128.62" fill="#9412e6"/>
<polygon points="82.42,127.78 84.92,127.78 83.67,130.03" fill="#9412e6"/>
<polygon points="88.08,128.38 90.58,128.38 89.33,130.62" fill="#9412e6"/>
<polygon points="93.75,129.18 96.25,129.18 95.00,131.43" fill="#9412e6"/>
<polygon points="99.42,129.47 101.92,129.47 100.67,131.72" fill="#9412e6"/>
<polygon points="105.08,129.78 107.58,129.78 106.33,132.03" fill="#9412e6"/>
<polygon points="110.75,129.97 113.25,129.97 112.00,132.22" fill="#9412e6"/>
<polygon points="116.42,130.18 118.92,130.18 117.67,132.43" fill="#9412e6"/>
<polygon points="122.08,130.18 124.58,130.18 123.33,132.43" fill="#9412e6"/>
<polygon points="127.75,130.18 130.25,130.18 129.00,132.43" fill="#9412e6"/>
<polygon points="133.42,130.18 135.92,130.18 134.67,132.43" fill="#9412e6"/>
<polygon points="139.08,130.18 141.58,130.18 140.33,132.43" fill="#9412e6"/>
<polygon points="144.75,130.18 147.25,130.18 146.00,132.43" fill="#9412e6"/>
<polygon points="150.42,130.18 152.92,130.18 151.67,132.43" fill="#9412e6"/>
<polygon points="156.08,130.18 158.58,130.18 157.33,132.43" fill="#9412e6"/>
<polygon points="161.75,130.18 164.25,130.18 163.00,132.43" fill="#9412e6"/>
<polygon points="25.80,133.68 28.20,133.68 27.00,131.52" fill="#9412e6"/>
<polygon points="31.47,133.08 33.87,133.08 32.67,130.92" fill="#9412e6"/>
<polygon points="37.13,132.38 39.53,132.38 38.33,130.22" fill="#9412e6"/>
<polygon points="42.80,131.68 45.20,131.68 44.00,129.52" fill="#9412e6"/>
<polygon points="48.47,131.18 50.87,131.18 49.67,129.02" fill="#9412e6"/>
<polygon points="54.13,130.58 56.53,130.58 55.33,128.42" fill="#9412e6"/>
<polygon points="59.80,129.98 62.20,129.98 61.00,127.82" fill="#9412e6"/>
<polygon points="65.47,129.28 67.87,129.28 66.67,127.12" fill="#9412e6"/>
<polygon points="71.13,128.68 73.53,128.68 72.33,126.52" fill="#9412e6"/>
<polygon points="76.80,128.08 79.20,128.08 78.00,125.92" fill="#9412e6"/>
<polygon points="82.47,127.38 84.87,127.38 83.67,125.22" fill="#9412e6"/>
<polygon points="88.13,126.08 90.53,126.08 89.33,123.92" fill="#9412e6"/>
<polygon points="93.80,123.08 96.20,123.08 95.00,120.92" fill="#9412e6"/>
<polygon points="99.47,120.88 101.87,120.88 100.67,118.72" fill="#9412e6"/>
<polygon points="105.13,119.18 107.53,119.18 106.33,117.02" fill="#9412e6"/>
<polygon points="110.80,116.78 113.20,116.78 112.00,114.62" fill="#9412e6"/>
<polygon points="116.47,113.98 118.87,113.98 117.67,111.82" fill="#9412e6"/>
<polygon points="122.13,110.98 124.53,110.98 123.33,108.82" fill="#9412e6"/>
<polygon points="127.80,106.78 130.20,106.78 129.00,104.62" fill="#9412e6"/>
<polygon points="133.47,101.28 135.87,101.28 134.67,99.12" fill="#9412e6"/>
<polygon points="139.13,95.08 141.53,95.08 140.33,92.92" fill="#9412e6"/>
<polygon points="144.80,86.78 147.20,86.78 146.00,84.62" fill="#9412e6"/>
<polygon points="150.47,76.98 152.87,76.98 151.67,74.82" fill="#9412e6"/>
<polygon points="156.13,64.88 158.53,64.88 157.33,62.72" fill="#9412e6"/>
<polygon points="161.80,50.48 164.20,50.48 163.00,48.32" fill="#9412e6"/>
<rect x="25.85" y="48.15" width="2.3" height="2.3" fill="#14c21c"/>
<rect x="31.52" y="60.55" width="2.3" height="2.3" fill="#14c21c"/>
<rect x="37.18" y="76.15" width="2.3" height="2.3" fill="#14c21c"/>
<rect x="42.85" y="88.85" width="2.3" height="2.3" fill="#14c21c"/>
<rect x="48.52" y="99.75" width="2.3" height="2.3" fill="#14c21c"/>
<rect x="54.18" y="108.05" width="2.3" height="2.3" fill="#14c21c"/>
<rect x="59.85" y="113.95" width="2.3" height="2.3" fill="#14c21c"/>
<rect x="65.52" y="118.35" width="2.3" height="2.3" fill="#14c21c"/>
<rect x="71.18" y="121.45" width="2.3" height="2.3" fill="#14c21c"/>
<rect x="76.85" y="123.85" width="2.3" height="2.3" fill="#14c21c"/>
<rect x="82.52" y="125.25" width="2.3" height="2.3" fill="#14c21c"/>
<rect x="88.18" y="127.35" width="2.3" height="2.3" fill="#14c21c"/>
<rect x="93.85" y="128.05" width="2.3" height="2.3" fill="#14c21c"/>
<rect x="99.52" y="128.75" width="2.3" height="2.3" fill="#14c21c"/>
<rect x="105.18" y="129.15" width="2.3" height="2.3" fill="#14c21c"/>
<rect x="110.85" y="129.75" width="2.3" height="2.3" fill="#14c21c"/>
<rect x="116.52" y="129.95" width="2.3" height="2.3" fill="#14c21c"/>
<rect x="122.18" y="130.15" width="2.3" height="2.3" fill="#14c21c"/>
<rect x="127.85" y="130.15" width="2.3" height="2.3" fill="#14c21c"/>
<rect x="133.52" y="130.15" width="2.3" height="2.3" fill="#14c21c"/>
<rect x="139.18" y="130.15" width="2.3" height="2.3" fill="#14c21c"/>
<rect x="144.85" y="130.15" width="2.3" height="2.3" fill="#14c21c"/>
<rect x="150.52" y="130.15" width="2.3" height="2.3" fill="#14c21c"/>
<rect x="156.18" y="130.15" width="2.3" height="2.3" fill="#14c21c"/>
<rect x="161.85" y="130.15" width="2.3" height="2.3" fill="#14c21c"/>
<circle cx="27.00" cy="129.50" r="1.25" fill="#14c21c"/>
<circle cx="32.67" cy="128.50" r="1.25" fill="#14c21c"/>
<circle cx="38.33" cy="128.10" r="1.25" fill="#14c21c"/>
<circle cx="44.00" cy="127.40" r="1.25" fill="#14c21c"/>
<circle cx="49.67" cy="126.70" r="1.25" fill="#14c21c"/>
<circle cx="55.33" cy="126.00" r="1.25" fill="#14c21c"/>
<circle cx="61.00" cy="125.50" r="1.25" fill="#14c21c"/>
<circle cx="66.67" cy="124.60" r="1.25" fill="#14c21c"/>
<circle cx="72.33" cy="123.30" r="1.25" fill="#14c21c"/>
<circle cx="78.00" cy="122.70" r="1.25" fill="#14c21c"/>
<circle cx="83.67" cy="122.00" r="1.25" fill="#14c21c"/>
<circle cx="89.33" cy="120.40" r="1.25" fill="#14c21c"/>
<circle cx="95.00" cy="118.10" r="1.25" fill="#14c21c"/>
<circle cx="100.67" cy="116.10" r="1.25" fill="#14c21c"/>
<circle cx="106.33" cy="113.30" r="1.25" fill="#14c21c"/>
<circle cx="112.00" cy="110.30" r="1.25" fill="#14c21c"/>
<circle cx="117.67" cy="107.10" r="1.25" fill="#14c21c"/>
<circle cx="123.33" cy="104.10" r="1.25" fill="#14c21c"/>
<circle cx="129.00" cy="100.50" r="1.25" fill="#14c21c"/>
<circle cx="134.67" cy="95.40" r="1.25" fill="#14c21c"/>
<circle cx="140.33" cy="89.30" r="1.25" fill="#14c21c"/>
<circle cx="146.00" cy="81.40" r="1.25" fill="#14c21c"/>
<circle cx="151.67" cy="72.50" r="1.25" fill="#14c21c"/>
<circle cx="157.33" cy="61.00" r="1.25" fill="#14c21c"/>
<circle cx="163.00" cy="46.90" r="1.25" fill="#14c21c"/>
<circle cx="222.80" cy="40.10" r="1.0" fill="#1414f0"/>
<text x="232.6" y="42.1" font-family="'Liberation Serif','Times New Roman',serif" font-size="6.1" font-weight="normal" text-anchor="start" fill="#000" stroke="#000" stroke-width="0.12">3% HACC Sheer stress</text>
<rect x="295.70" y="39.30" width="2.0" height="2.0" fill="#1414f0"/>
<text x="306.3" y="42.1" font-family="'Liberation Serif','Times New Roman',serif" font-size="6.1" font-weight="normal" text-anchor="start" fill="#000" stroke="#000" stroke-width="0.12">3% HACC Viscosity</text>
<line x1="222.8" y1="47.5" x2="222.8" y2="129.5" stroke="#333" stroke-width="1"/>
<line x1="220.4" y1="129.5" x2="222.8" y2="129.5" stroke="#333" stroke-width="1"/>
<text x="218.6" y="131.7" font-family="'Liberation Serif','Times New Roman',serif" font-size="6.0" font-weight="bold" text-anchor="end" fill="#111" stroke="#111" stroke-width="0.1">-5</text>
<line x1="220.4" y1="113.1" x2="222.8" y2="113.1" stroke="#333" stroke-width="1"/>
<text x="218.6" y="115.3" font-family="'Liberation Serif','Times New Roman',serif" font-size="6.0" font-weight="bold" text-anchor="end" fill="#111" stroke="#111" stroke-width="0.1">0</text>
<line x1="220.4" y1="96.7" x2="222.8" y2="96.7" stroke="#333" stroke-width="1"/>
<text x="218.6" y="98.9" font-family="'Liberation Serif','Times New Roman',serif" font-size="6.0" font-weight="bold" text-anchor="end" fill="#111" stroke="#111" stroke-width="0.1">5</text>
<line x1="220.4" y1="80.3" x2="222.8" y2="80.3" stroke="#333" stroke-width="1"/>
<text x="218.6" y="82.5" font-family="'Liberation Serif','Times New Roman',serif" font-size="6.0" font-weight="bold" text-anchor="end" fill="#111" stroke="#111" stroke-width="0.1">10</text>
<line x1="220.4" y1="63.900000000000006" x2="222.8" y2="63.900000000000006" stroke="#333" stroke-width="1"/>
<text x="218.6" y="66.10000000000001" font-family="'Liberation Serif','Times New Roman',serif" font-size="6.0" font-weight="bold" text-anchor="end" fill="#111" stroke="#111" stroke-width="0.1">15</text>
<line x1="220.4" y1="47.5" x2="222.8" y2="47.5" stroke="#333" stroke-width="1"/>
<text x="218.6" y="49.7" font-family="'Liberation Serif','Times New Roman',serif" font-size="6.0" font-weight="bold" text-anchor="end" fill="#111" stroke="#111" stroke-width="0.1">20</text>
<line x1="345.9" y1="47.5" x2="345.9" y2="129.5" stroke="#333" stroke-width="1"/>
<line x1="345.9" y1="129.5" x2="348.29999999999995" y2="129.5" stroke="#333" stroke-width="1"/>
<text x="350.0" y="131.9" font-family="'Liberation Serif','Times New Roman',serif" font-size="6.0" font-weight="bold" text-anchor="start" fill="#111" stroke="#111" stroke-width="0.1">-600</text>
<line x1="345.9" y1="113.1" x2="348.29999999999995" y2="113.1" stroke="#333" stroke-width="1"/>
<text x="350.0" y="115.5" font-family="'Liberation Serif','Times New Roman',serif" font-size="6.0" font-weight="bold" text-anchor="start" fill="#111" stroke="#111" stroke-width="0.1">-400</text>
<line x1="345.9" y1="96.7" x2="348.29999999999995" y2="96.7" stroke="#333" stroke-width="1"/>
<text x="350.0" y="99.10000000000001" font-family="'Liberation Serif','Times New Roman',serif" font-size="6.0" font-weight="bold" text-anchor="start" fill="#111" stroke="#111" stroke-width="0.1">-200</text>
<line x1="345.9" y1="80.3" x2="348.29999999999995" y2="80.3" stroke="#333" stroke-width="1"/>
<text x="350.0" y="82.7" font-family="'Liberation Serif','Times New Roman',serif" font-size="6.0" font-weight="bold" text-anchor="start" fill="#111" stroke="#111" stroke-width="0.1">0</text>
<line x1="345.9" y1="63.900000000000006" x2="348.29999999999995" y2="63.900000000000006" stroke="#333" stroke-width="1"/>
<text x="350.0" y="66.30000000000001" font-family="'Liberation Serif','Times New Roman',serif" font-size="6.0" font-weight="bold" text-anchor="start" fill="#111" stroke="#111" stroke-width="0.1">200</text>
<line x1="345.9" y1="47.5" x2="348.29999999999995" y2="47.5" stroke="#333" stroke-width="1"/>
<text x="350.0" y="49.9" font-family="'Liberation Serif','Times New Roman',serif" font-size="6.0" font-weight="bold" text-anchor="start" fill="#111" stroke="#111" stroke-width="0.1">400</text>
<line x1="222.8" y1="113.2" x2="345.9" y2="113.2" stroke="#333" stroke-width="1.1"/>
<line x1="253.3" y1="113.2" x2="253.3" y2="115.4" stroke="#333" stroke-width="1"/>
<text x="253.3" y="123.6" font-family="'Liberation Serif','Times New Roman',serif" font-size="6.0" font-weight="bold" text-anchor="middle" fill="#111" stroke="#111" stroke-width="0.1">0.1</text>
<line x1="284.3" y1="113.2" x2="284.3" y2="115.4" stroke="#333" stroke-width="1"/>
<text x="284.3" y="123.6" font-family="'Liberation Serif','Times New Roman',serif" font-size="6.0" font-weight="bold" text-anchor="middle" fill="#111" stroke="#111" stroke-width="0.1">1</text>
<line x1="315.3" y1="113.2" x2="315.3" y2="115.4" stroke="#333" stroke-width="1"/>
<text x="315.3" y="123.6" font-family="'Liberation Serif','Times New Roman',serif" font-size="6.0" font-weight="bold" text-anchor="middle" fill="#111" stroke="#111" stroke-width="0.1">10</text>
<line x1="346.3" y1="113.2" x2="346.3" y2="115.4" stroke="#333" stroke-width="1"/>
<text x="346.3" y="123.6" font-family="'Liberation Serif','Times New Roman',serif" font-size="6.0" font-weight="bold" text-anchor="middle" fill="#111" stroke="#111" stroke-width="0.1">100</text>
<text x="280.9" y="134.4" font-family="'Liberation Serif','Times New Roman',serif" font-size="6.0" font-weight="bold" text-anchor="start" fill="#111" stroke="#111" stroke-width="0.1">s<tspan font-size="4.8" dx="0.6" dy="-2.8">-1</tspan></text>
<text x="206.0" y="88.8" font-family="'Liberation Serif','Times New Roman',serif" font-size="6.4" font-weight="bold" text-anchor="middle" fill="#000" stroke="#000" stroke-width="0.1" transform="rotate(-90 206.0 88.8)" dy="2.2">Pa</text>
<text x="368.7" y="89" font-family="'Liberation Serif','Times New Roman',serif" font-size="6.0" font-weight="bold" text-anchor="middle" fill="#000" stroke="#000" stroke-width="0.1" transform="rotate(90 368.7 89)" dy="2.1">3% HACC (mPA·s)</text>
<circle cx="222.80" cy="113.20" r="1.2" fill="#1414f0"/>
<circle cx="227.93" cy="113.20" r="1.2" fill="#1414f0"/>
<circle cx="233.06" cy="113.20" r="1.2" fill="#1414f0"/>
<circle cx="238.19" cy="113.20" r="1.2" fill="#1414f0"/>
<circle cx="243.32" cy="113.20" r="1.2" fill="#1414f0"/>
<circle cx="248.45" cy="113.20" r="1.2" fill="#1414f0"/>
<circle cx="253.58" cy="113.20" r="1.2" fill="#1414f0"/>
<circle cx="258.71" cy="113.20" r="1.2" fill="#1414f0"/>
<circle cx="263.84" cy="113.20" r="1.2" fill="#1414f0"/>
<circle cx="268.97" cy="113.20" r="1.2" fill="#1414f0"/>
<circle cx="274.10" cy="113.20" r="1.2" fill="#1414f0"/>
<circle cx="279.23" cy="113.20" r="1.2" fill="#1414f0"/>
<circle cx="284.36" cy="113.20" r="1.2" fill="#1414f0"/>
<circle cx="289.49" cy="112.80" r="1.2" fill="#1414f0"/>
<circle cx="294.62" cy="112.30" r="1.2" fill="#1414f0"/>
<circle cx="299.75" cy="111.80" r="1.2" fill="#1414f0"/>
<circle cx="304.88" cy="110.60" r="1.2" fill="#1414f0"/>
<circle cx="310.01" cy="109.30" r="1.2" fill="#1414f0"/>
<circle cx="315.14" cy="107.60" r="1.2" fill="#1414f0"/>
<circle cx="320.27" cy="105.10" r="1.2" fill="#1414f0"/>
<circle cx="325.40" cy="101.80" r="1.2" fill="#1414f0"/>
<circle cx="330.53" cy="96.80" r="1.2" fill="#1414f0"/>
<circle cx="335.66" cy="89.90" r="1.2" fill="#1414f0"/>
<circle cx="340.79" cy="79.40" r="1.2" fill="#1414f0"/>
<circle cx="345.92" cy="67.80" r="1.2" fill="#1414f0"/>
<rect x="226.88" y="83.75" width="2.1" height="2.1" fill="#1414f0"/>
<rect x="232.01" y="66.65" width="2.1" height="2.1" fill="#1414f0"/>
<rect x="237.14" y="61.05" width="2.1" height="2.1" fill="#1414f0"/>
<rect x="242.27" y="52.55" width="2.1" height="2.1" fill="#1414f0"/>
<rect x="247.40" y="54.35" width="2.1" height="2.1" fill="#1414f0"/>
<rect x="252.53" y="56.35" width="2.1" height="2.1" fill="#1414f0"/>
<rect x="257.66" y="59.35" width="2.1" height="2.1" fill="#1414f0"/>
<rect x="262.79" y="60.45" width="2.1" height="2.1" fill="#1414f0"/>
<rect x="267.92" y="60.85" width="2.1" height="2.1" fill="#1414f0"/>
<rect x="273.05" y="61.65" width="2.1" height="2.1" fill="#1414f0"/>
<rect x="278.18" y="62.45" width="2.1" height="2.1" fill="#1414f0"/>
<rect x="283.31" y="62.95" width="2.1" height="2.1" fill="#1414f0"/>
<rect x="288.44" y="63.45" width="2.1" height="2.1" fill="#1414f0"/>
<rect x="293.57" y="63.95" width="2.1" height="2.1" fill="#1414f0"/>
<rect x="298.70" y="64.25" width="2.1" height="2.1" fill="#1414f0"/>
<rect x="303.83" y="64.65" width="2.1" height="2.1" fill="#1414f0"/>
<rect x="308.96" y="64.95" width="2.1" height="2.1" fill="#1414f0"/>
<rect x="314.09" y="65.15" width="2.1" height="2.1" fill="#1414f0"/>
<rect x="319.22" y="65.45" width="2.1" height="2.1" fill="#1414f0"/>
<rect x="324.35" y="65.75" width="2.1" height="2.1" fill="#1414f0"/>
<rect x="329.48" y="66.15" width="2.1" height="2.1" fill="#1414f0"/>
<rect x="334.61" y="66.65" width="2.1" height="2.1" fill="#1414f0"/>
<rect x="339.74" y="67.15" width="2.1" height="2.1" fill="#1414f0"/>
<rect x="344.87" y="67.15" width="2.1" height="2.1" fill="#1414f0"/>
<rect x="345.05" y="64.15" width="2.1" height="2.1" fill="#1414f0"/>
<circle cx="407.60" cy="18.20" r="1.3" fill="#f2f200"/>
<text x="417.2" y="20.5" font-family="'Liberation Sans',Arial,sans-serif" font-size="6.5" font-weight="normal" text-anchor="start" fill="#000" stroke="#000" stroke-width="0.12">3% HACC G'</text>
<circle cx="465.00" cy="18.00" r="1.5" fill="#f2f200"/>
<text x="474.6" y="20.3" font-family="'Liberation Sans',Arial,sans-serif" font-size="6.5" font-weight="normal" text-anchor="start" fill="#000" stroke="#000" stroke-width="0.12">3% HACC G"</text>
<polygon points="406.30,27.63 408.90,27.63 407.60,29.97" fill="#1414f0"/>
<text x="417.2" y="31.1" font-family="'Liberation Sans',Arial,sans-serif" font-size="6.5" font-weight="normal" text-anchor="start" fill="#000" stroke="#000" stroke-width="0.12">1% LMSH G"</text>
<polygon points="464.50,30.07 467.10,30.07 465.80,27.73" fill="#1414f0"/>
<text x="475.4" y="31.2" font-family="'Liberation Sans',Arial,sans-serif" font-size="6.5" font-weight="normal" text-anchor="start" fill="#000" stroke="#000" stroke-width="0.12">1% LMSH G'</text>
<circle cx="407.60" cy="39.30" r="1.1" fill="#6a0a9a"/>
<text x="417.2" y="41.6" font-family="'Liberation Sans',Arial,sans-serif" font-size="6.5" font-weight="normal" text-anchor="start" fill="#000" stroke="#000" stroke-width="0.12">1.5% LMSH G'</text>
<circle cx="466.60" cy="38.90" r="2.0" fill="#6a0a9a"/>
<text x="476.4" y="41.3" font-family="'Liberation Sans',Arial,sans-serif" font-size="6.5" font-weight="normal" text-anchor="start" fill="#000" stroke="#000" stroke-width="0.12">1.5% LMSH G"</text>
<text x="400.3" y="47.0" font-family="'Liberation Sans',Arial,sans-serif" font-size="5.6" font-weight="bold" text-anchor="end" fill="#000" stroke="#000" stroke-width="0.1">1,000</text>
<text x="400.3" y="67.53999999999999" font-family="'Liberation Sans',Arial,sans-serif" font-size="5.6" font-weight="bold" text-anchor="end" fill="#000" stroke="#000" stroke-width="0.1">100</text>
<text x="400.3" y="88.08" font-family="'Liberation Sans',Arial,sans-serif" font-size="5.6" font-weight="bold" text-anchor="end" fill="#000" stroke="#000" stroke-width="0.1">10</text>
<text x="400.3" y="108.61999999999999" font-family="'Liberation Sans',Arial,sans-serif" font-size="5.6" font-weight="bold" text-anchor="end" fill="#000" stroke="#000" stroke-width="0.1">1</text>
<text x="400.3" y="129.16" font-family="'Liberation Sans',Arial,sans-serif" font-size="5.6" font-weight="bold" text-anchor="end" fill="#000" stroke="#000" stroke-width="0.1">0.1</text>
<text x="400.3" y="149.7" font-family="'Liberation Sans',Arial,sans-serif" font-size="5.6" font-weight="bold" text-anchor="end" fill="#000" stroke="#000" stroke-width="0.1">0.01</text>
<text x="530.8" y="47.0" font-family="'Liberation Sans',Arial,sans-serif" font-size="5.6" font-weight="bold" text-anchor="start" fill="#000" stroke="#000" stroke-width="0.1">10</text>
<text x="530.8" y="81.23333333333332" font-family="'Liberation Sans',Arial,sans-serif" font-size="5.6" font-weight="bold" text-anchor="start" fill="#000" stroke="#000" stroke-width="0.1">1</text>
<text x="530.8" y="115.46666666666665" font-family="'Liberation Sans',Arial,sans-serif" font-size="5.6" font-weight="bold" text-anchor="start" fill="#000" stroke="#000" stroke-width="0.1">0.1</text>
<text x="530.8" y="149.7" font-family="'Liberation Sans',Arial,sans-serif" font-size="5.6" font-weight="bold" text-anchor="start" fill="#000" stroke="#000" stroke-width="0.1">0.01</text>
<text x="426.4" y="117.2" font-family="'Liberation Sans',Arial,sans-serif" font-size="5.6" font-weight="bold" text-anchor="middle" fill="#000" stroke="#000" stroke-width="0.1">0.1</text>
<text x="451.15" y="117.2" font-family="'Liberation Sans',Arial,sans-serif" font-size="5.6" font-weight="bold" text-anchor="middle" fill="#000" stroke="#000" stroke-width="0.1">1</text>
<text x="475.9" y="117.2" font-family="'Liberation Sans',Arial,sans-serif" font-size="5.6" font-weight="bold" text-anchor="middle" fill="#000" stroke="#000" stroke-width="0.1">10</text>
<text x="500.65" y="117.2" font-family="'Liberation Sans',Arial,sans-serif" font-size="5.6" font-weight="bold" text-anchor="middle" fill="#000" stroke="#000" stroke-width="0.1">100</text>
<text x="522.0" y="117.2" font-family="'Liberation Sans',Arial,sans-serif" font-size="5.6" font-weight="bold" text-anchor="middle" fill="#000" stroke="#000" stroke-width="0.1">1000</text>
<text x="463.6" y="157.3" font-family="'Liberation Sans',Arial,sans-serif" font-size="7.1" font-weight="bold" text-anchor="middle" fill="#000" stroke="#000" stroke-width="0.1">Strain (%)</text>
<text x="380.0" y="100.2" font-family="'Liberation Sans',Arial,sans-serif" font-size="6.8" font-weight="bold" text-anchor="middle" fill="#000" stroke="#000" stroke-width="0.1" transform="rotate(-90 380.0 100.2)" dy="2.4">G'</text>
<text x="544.7" y="100.2" font-family="'Liberation Sans',Arial,sans-serif" font-size="6.8" font-weight="bold" text-anchor="middle" fill="#000" stroke="#000" stroke-width="0.1" transform="rotate(90 544.7 100.2)" dy="2.4">G"</text>
<rect x="401.7" y="45.0" width="123.09999999999997" height="102.69999999999999" fill="none" stroke="#6e6e6e" stroke-width="1.3"/>
<line x1="401.7" y1="106.91999999999999" x2="524.8" y2="106.91999999999999" stroke="#3a3a3a" stroke-width="1.3"/>
<line x1="426.4" y1="106.61999999999999" x2="426.4" y2="109.61999999999999" stroke="#3a3a3a" stroke-width="1"/>
<line x1="451.15" y1="106.61999999999999" x2="451.15" y2="109.61999999999999" stroke="#3a3a3a" stroke-width="1"/>
<line x1="475.9" y1="106.61999999999999" x2="475.9" y2="109.61999999999999" stroke="#3a3a3a" stroke-width="1"/>
<line x1="500.65" y1="106.61999999999999" x2="500.65" y2="109.61999999999999" stroke="#3a3a3a" stroke-width="1"/>
<line x1="524.6" y1="106.61999999999999" x2="524.6" y2="109.61999999999999" stroke="#3a3a3a" stroke-width="1"/>
<circle cx="405.93" cy="108.90" r="1.15" fill="#f2f200"/>
<circle cx="410.06" cy="125.00" r="1.15" fill="#f2f200"/>
<circle cx="414.19" cy="124.00" r="1.15" fill="#f2f200"/>
<circle cx="418.32" cy="120.10" r="1.15" fill="#f2f200"/>
<circle cx="422.45" cy="118.20" r="1.15" fill="#f2f200"/>
<circle cx="426.58" cy="124.00" r="1.15" fill="#f2f200"/>
<circle cx="430.71" cy="124.00" r="1.15" fill="#f2f200"/>
<circle cx="434.84" cy="131.20" r="1.15" fill="#f2f200"/>
<circle cx="438.97" cy="131.20" r="1.15" fill="#f2f200"/>
<circle cx="443.10" cy="131.80" r="1.15" fill="#f2f200"/>
<circle cx="447.23" cy="130.80" r="1.15" fill="#f2f200"/>
<circle cx="451.36" cy="129.80" r="1.15" fill="#f2f200"/>
<circle cx="455.49" cy="126.50" r="1.15" fill="#f2f200"/>
<circle cx="459.62" cy="125.40" r="1.15" fill="#f2f200"/>
<circle cx="463.75" cy="128.30" r="1.15" fill="#f2f200"/>
<circle cx="467.88" cy="132.70" r="1.15" fill="#f2f200"/>
<circle cx="472.01" cy="131.20" r="1.15" fill="#f2f200"/>
<circle cx="476.14" cy="130.80" r="1.15" fill="#f2f200"/>
<circle cx="480.27" cy="130.80" r="1.15" fill="#f2f200"/>
<circle cx="484.40" cy="131.20" r="1.15" fill="#f2f200"/>
<circle cx="488.53" cy="132.30" r="1.15" fill="#f2f200"/>
<circle cx="492.66" cy="132.30" r="1.15" fill="#f2f200"/>
<circle cx="496.79" cy="134.70" r="1.15" fill="#f2f200"/>
<circle cx="500.92" cy="135.60" r="1.15" fill="#f2f200"/>
<circle cx="505.05" cy="137.00" r="1.15" fill="#f2f200"/>
<circle cx="509.18" cy="138.50" r="1.15" fill="#f2f200"/>
<circle cx="513.31" cy="139.90" r="1.15" fill="#f2f200"/>
<circle cx="517.44" cy="142.00" r="1.15" fill="#f2f200"/>
<circle cx="521.57" cy="143.70" r="1.15" fill="#f2f200"/>
<circle cx="401.80" cy="78.20" r="1.0" fill="#f2f200"/>
<circle cx="405.93" cy="84.00" r="1.0" fill="#f2f200"/>
<circle cx="410.06" cy="81.40" r="1.0" fill="#f2f200"/>
<circle cx="414.19" cy="84.90" r="1.0" fill="#f2f200"/>
<circle cx="418.32" cy="77.70" r="1.0" fill="#f2f200"/>
<circle cx="422.45" cy="80.40" r="1.0" fill="#f2f200"/>
<circle cx="426.58" cy="79.50" r="1.0" fill="#f2f200"/>
<circle cx="430.71" cy="81.40" r="1.0" fill="#f2f200"/>
<circle cx="434.84" cy="78.80" r="1.0" fill="#f2f200"/>
<circle cx="438.97" cy="78.80" r="1.0" fill="#f2f200"/>
<circle cx="443.10" cy="78.80" r="1.0" fill="#f2f200"/>
<circle cx="447.23" cy="78.80" r="1.0" fill="#f2f200"/>
<circle cx="451.36" cy="78.80" r="1.0" fill="#f2f200"/>
<circle cx="455.49" cy="78.80" r="1.0" fill="#f2f200"/>
<circle cx="459.62" cy="78.90" r="1.0" fill="#f2f200"/>
<circle cx="463.75" cy="78.90" r="1.0" fill="#f2f200"/>
<circle cx="467.88" cy="78.90" r="1.0" fill="#f2f200"/>
<circle cx="472.01" cy="78.90" r="1.0" fill="#f2f200"/>
<circle cx="476.14" cy="79.00" r="1.0" fill="#f2f200"/>
<circle cx="480.27" cy="79.00" r="1.0" fill="#f2f200"/>
<circle cx="484.40" cy="79.00" r="1.0" fill="#f2f200"/>
<circle cx="488.53" cy="79.10" r="1.0" fill="#f2f200"/>
<circle cx="492.66" cy="79.10" r="1.0" fill="#f2f200"/>
<circle cx="496.79" cy="79.20" r="1.0" fill="#f2f200"/>
<circle cx="500.92" cy="79.20" r="1.0" fill="#f2f200"/>
<circle cx="505.05" cy="79.30" r="1.0" fill="#f2f200"/>
<circle cx="509.18" cy="79.40" r="1.0" fill="#f2f200"/>
<circle cx="513.31" cy="79.50" r="1.0" fill="#f2f200"/>
<circle cx="517.44" cy="79.60" r="1.0" fill="#f2f200"/>
<circle cx="521.57" cy="79.80" r="1.0" fill="#f2f200"/>
<circle cx="451.30" cy="146.30" r="1.1" fill="#f2f200"/>
<polygon points="400.75,106.66 402.85,106.66 401.80,108.54" fill="#1414f0"/>
<polygon points="404.88,107.56 406.98,107.56 405.93,109.44" fill="#1414f0"/>
<polygon points="409.01,110.16 411.11,110.16 410.06,112.04" fill="#1414f0"/>
<polygon points="413.14,108.16 415.24,108.16 414.19,110.04" fill="#1414f0"/>
<polygon points="417.27,108.16 419.37,108.16 418.32,110.04" fill="#1414f0"/>
<polygon points="421.40,107.26 423.50,107.26 422.45,109.14" fill="#1414f0"/>
<polygon points="425.53,106.66 427.63,106.66 426.58,108.54" fill="#1414f0"/>
<polygon points="429.66,107.26 431.76,107.26 430.71,109.14" fill="#1414f0"/>
<polygon points="433.79,105.66 435.89,105.66 434.84,107.54" fill="#1414f0"/>
<polygon points="437.92,104.66 440.02,104.66 438.97,106.54" fill="#1414f0"/>
<polygon points="442.05,104.16 444.15,104.16 443.10,106.04" fill="#1414f0"/>
<polygon points="446.18,103.36 448.28,103.36 447.23,105.24" fill="#1414f0"/>
<polygon points="450.31,102.56 452.41,102.56 451.36,104.44" fill="#1414f0"/>
<polygon points="454.44,102.76 456.54,102.76 455.49,104.64" fill="#1414f0"/>
<polygon points="458.57,103.36 460.67,103.36 459.62,105.24" fill="#1414f0"/>
<polygon points="462.70,104.06 464.80,104.06 463.75,105.94" fill="#1414f0"/>
<polygon points="466.83,104.86 468.93,104.86 467.88,106.74" fill="#1414f0"/>
<polygon points="470.96,105.36 473.06,105.36 472.01,107.24" fill="#1414f0"/>
<polygon points="475.09,105.66 477.19,105.66 476.14,107.54" fill="#1414f0"/>
<polygon points="479.22,105.66 481.32,105.66 480.27,107.54" fill="#1414f0"/>
<polygon points="483.35,106.06 485.45,106.06 484.40,107.94" fill="#1414f0"/>
<polygon points="487.48,106.56 489.58,106.56 488.53,108.44" fill="#1414f0"/>
<polygon points="491.61,107.06 493.71,107.06 492.66,108.94" fill="#1414f0"/>
<polygon points="495.74,107.36 497.84,107.36 496.79,109.24" fill="#1414f0"/>
<polygon points="499.87,107.06 501.97,107.06 500.92,108.94" fill="#1414f0"/>
<polygon points="504.00,106.56 506.10,106.56 505.05,108.44" fill="#1414f0"/>
<polygon points="508.13,107.06 510.23,107.06 509.18,108.94" fill="#1414f0"/>
<polygon points="512.26,107.66 514.36,107.66 513.31,109.54" fill="#1414f0"/>
<polygon points="516.39,106.86 518.49,106.86 517.44,108.74" fill="#1414f0"/>
<polygon points="520.52,107.86 522.62,107.86 521.57,109.74" fill="#1414f0"/>
<polygon points="400.75,99.44 402.85,99.44 401.80,97.56" fill="#1414f0"/>
<polygon points="404.88,98.54 406.98,98.54 405.93,96.66" fill="#1414f0"/>
<polygon points="409.01,97.14 411.11,97.14 410.06,95.26" fill="#1414f0"/>
<polygon points="413.14,96.24 415.24,96.24 414.19,94.36" fill="#1414f0"/>
<polygon points="417.27,95.54 419.37,95.54 418.32,93.66" fill="#1414f0"/>
<polygon points="421.40,94.74 423.50,94.74 422.45,92.86" fill="#1414f0"/>
<polygon points="425.53,94.04 427.63,94.04 426.58,92.16" fill="#1414f0"/>
<polygon points="429.66,93.54 431.76,93.54 430.71,91.66" fill="#1414f0"/>
<polygon points="433.79,93.14 435.89,93.14 434.84,91.26" fill="#1414f0"/>
<polygon points="437.92,92.94 440.02,92.94 438.97,91.06" fill="#1414f0"/>
<polygon points="442.05,92.64 444.15,92.64 443.10,90.76" fill="#1414f0"/>
<polygon points="446.18,92.64 448.28,92.64 447.23,90.76" fill="#1414f0"/>
<polygon points="450.31,92.94 452.41,92.94 451.36,91.06" fill="#1414f0"/>
<polygon points="454.44,93.54 456.54,93.54 455.49,91.66" fill="#1414f0"/>
<polygon points="458.57,94.44 460.67,94.44 459.62,92.56" fill="#1414f0"/>
<polygon points="462.70,95.84 464.80,95.84 463.75,93.96" fill="#1414f0"/>
<polygon points="466.83,98.34 468.93,98.34 467.88,96.46" fill="#1414f0"/>
<polygon points="470.96,100.44 473.06,100.44 472.01,98.56" fill="#1414f0"/>
<polygon points="475.09,102.74 477.19,102.74 476.14,100.86" fill="#1414f0"/>
<polygon points="479.22,104.74 481.32,104.74 480.27,102.86" fill="#1414f0"/>
<polygon points="483.35,106.34 485.45,106.34 484.40,104.46" fill="#1414f0"/>
<polygon points="487.48,107.44 489.58,107.44 488.53,105.56" fill="#1414f0"/>
<polygon points="491.61,108.44 493.71,108.44 492.66,106.56" fill="#1414f0"/>
<polygon points="495.74,109.44 497.84,109.44 496.79,107.56" fill="#1414f0"/>
<polygon points="499.87,111.44 501.97,111.44 500.92,109.56" fill="#1414f0"/>
<polygon points="504.00,112.94 506.10,112.94 505.05,111.06" fill="#1414f0"/>
<polygon points="508.13,115.24 510.23,115.24 509.18,113.36" fill="#1414f0"/>
<polygon points="512.26,118.14 514.36,118.14 513.31,116.26" fill="#1414f0"/>
<polygon points="516.39,120.14 518.49,120.14 517.44,118.26" fill="#1414f0"/>
<polygon points="520.52,126.54 522.62,126.54 521.57,124.66" fill="#1414f0"/>
<circle cx="401.80" cy="75.20" r="1.6" fill="#6a0a9a"/>
<circle cx="405.93" cy="75.20" r="1.6" fill="#6a0a9a"/>
<circle cx="410.06" cy="75.20" r="1.6" fill="#6a0a9a"/>
<circle cx="414.19" cy="75.10" r="1.6" fill="#6a0a9a"/>
<circle cx="418.32" cy="75.10" r="1.6" fill="#6a0a9a"/>
<circle cx="422.45" cy="75.00" r="1.6" fill="#6a0a9a"/>
<circle cx="426.58" cy="75.00" r="1.6" fill="#6a0a9a"/>
<circle cx="430.71" cy="74.90" r="1.6" fill="#6a0a9a"/>
<circle cx="434.84" cy="74.80" r="1.6" fill="#6a0a9a"/>
<circle cx="438.97" cy="74.70" r="1.6" fill="#6a0a9a"/>
<circle cx="443.10" cy="74.60" r="1.6" fill="#6a0a9a"/>
<circle cx="447.23" cy="74.40" r="1.6" fill="#6a0a9a"/>
<circle cx="451.36" cy="74.20" r="1.6" fill="#6a0a9a"/>
<circle cx="455.49" cy="74.00" r="1.6" fill="#6a0a9a"/>
<circle cx="459.62" cy="73.70" r="1.6" fill="#6a0a9a"/>
<circle cx="463.75" cy="73.30" r="1.6" fill="#6a0a9a"/>
<circle cx="467.88" cy="73.30" r="1.6" fill="#6a0a9a"/>
<circle cx="472.01" cy="73.50" r="1.6" fill="#6a0a9a"/>
<circle cx="476.14" cy="75.00" r="1.6" fill="#6a0a9a"/>
<circle cx="480.27" cy="76.30" r="1.6" fill="#6a0a9a"/>
<circle cx="484.40" cy="78.90" r="1.6" fill="#6a0a9a"/>
<circle cx="488.53" cy="81.40" r="1.6" fill="#6a0a9a"/>
<circle cx="492.66" cy="82.40" r="1.6" fill="#6a0a9a"/>
<circle cx="496.79" cy="84.30" r="1.6" fill="#6a0a9a"/>
<circle cx="500.92" cy="86.60" r="1.6" fill="#6a0a9a"/>
<circle cx="505.05" cy="88.90" r="1.6" fill="#6a0a9a"/>
<circle cx="509.18" cy="91.70" r="1.6" fill="#6a0a9a"/>
<circle cx="513.31" cy="94.40" r="1.6" fill="#6a0a9a"/>
<circle cx="517.44" cy="97.20" r="1.6" fill="#6a0a9a"/>
<circle cx="521.57" cy="100.60" r="1.6" fill="#6a0a9a"/>
<circle cx="451.10" cy="103.30" r="1.6" fill="#6a0a9a"/>
<circle cx="401.80" cy="56.10" r="0.85" fill="#6a0a9a"/>
<circle cx="405.93" cy="55.80" r="0.85" fill="#6a0a9a"/>
<circle cx="410.06" cy="55.50" r="0.85" fill="#6a0a9a"/>
<circle cx="414.19" cy="55.20" r="0.85" fill="#6a0a9a"/>
<circle cx="418.32" cy="55.00" r="0.85" fill="#6a0a9a"/>
<circle cx="422.45" cy="54.80" r="0.85" fill="#6a0a9a"/>
<circle cx="426.58" cy="54.60" r="0.85" fill="#6a0a9a"/>
<circle cx="430.71" cy="54.50" r="0.85" fill="#6a0a9a"/>
<circle cx="434.84" cy="54.50" r="0.85" fill="#6a0a9a"/>
<circle cx="438.97" cy="54.50" r="0.85" fill="#6a0a9a"/>
<circle cx="443.10" cy="54.60" r="0.85" fill="#6a0a9a"/>
<circle cx="447.23" cy="54.80" r="0.85" fill="#6a0a9a"/>
<circle cx="451.36" cy="55.20" r="0.85" fill="#6a0a9a"/>
<circle cx="455.49" cy="55.60" r="0.85" fill="#6a0a9a"/>
<circle cx="459.62" cy="56.20" r="0.85" fill="#6a0a9a"/>
<circle cx="463.75" cy="57.60" r="0.85" fill="#6a0a9a"/>
<circle cx="467.88" cy="60.30" r="0.85" fill="#6a0a9a"/>
<circle cx="472.01" cy="65.00" r="0.85" fill="#6a0a9a"/>
<circle cx="476.14" cy="70.10" r="0.85" fill="#6a0a9a"/>
<circle cx="480.27" cy="75.00" r="0.85" fill="#6a0a9a"/>
<circle cx="484.40" cy="78.70" r="0.85" fill="#6a0a9a"/>
<circle cx="488.53" cy="82.40" r="0.85" fill="#6a0a9a"/>
<circle cx="492.66" cy="86.60" r="0.85" fill="#6a0a9a"/>
<circle cx="496.79" cy="90.60" r="0.85" fill="#6a0a9a"/>
<circle cx="500.92" cy="94.80" r="0.85" fill="#6a0a9a"/>
<circle cx="505.05" cy="99.50" r="0.85" fill="#6a0a9a"/>
<circle cx="509.18" cy="103.70" r="0.85" fill="#6a0a9a"/>
<circle cx="513.31" cy="108.00" r="0.85" fill="#6a0a9a"/>
<circle cx="517.44" cy="111.90" r="0.85" fill="#6a0a9a"/>
<circle cx="521.57" cy="117.00" r="0.85" fill="#6a0a9a"/>
<circle cx="451.10" cy="122.10" r="0.85" fill="#6a0a9a"/>
<circle cx="451.10" cy="109.10" r="0.85" fill="#6a0a9a"/>
<line x1="400.8" y1="219.8" x2="400.8" y2="305.6" stroke="#333" stroke-width="1"/>
<line x1="397.8" y1="297.5" x2="400.8" y2="297.5" stroke="#333" stroke-width="1"/>
<text x="396.2" y="299.6" font-family="'Liberation Sans',Arial,sans-serif" font-size="5.8" font-weight="bold" text-anchor="end" fill="#000" stroke="#000" stroke-width="0.1">0</text>
<line x1="397.8" y1="281.96" x2="400.8" y2="281.96" stroke="#333" stroke-width="1"/>
<text x="396.2" y="284.06" font-family="'Liberation Sans',Arial,sans-serif" font-size="5.8" font-weight="bold" text-anchor="end" fill="#000" stroke="#000" stroke-width="0.1">20</text>
<line x1="397.8" y1="266.42" x2="400.8" y2="266.42" stroke="#333" stroke-width="1"/>
<text x="396.2" y="268.52000000000004" font-family="'Liberation Sans',Arial,sans-serif" font-size="5.8" font-weight="bold" text-anchor="end" fill="#000" stroke="#000" stroke-width="0.1">40</text>
<line x1="397.8" y1="250.88" x2="400.8" y2="250.88" stroke="#333" stroke-width="1"/>
<text x="396.2" y="252.98" font-family="'Liberation Sans',Arial,sans-serif" font-size="5.8" font-weight="bold" text-anchor="end" fill="#000" stroke="#000" stroke-width="0.1">60</text>
<line x1="397.8" y1="235.34" x2="400.8" y2="235.34" stroke="#333" stroke-width="1"/>
<text x="396.2" y="237.44" font-family="'Liberation Sans',Arial,sans-serif" font-size="5.8" font-weight="bold" text-anchor="end" fill="#000" stroke="#000" stroke-width="0.1">80</text>
<line x1="397.8" y1="219.8" x2="400.8" y2="219.8" stroke="#333" stroke-width="1"/>
<text x="396.2" y="221.9" font-family="'Liberation Sans',Arial,sans-serif" font-size="5.8" font-weight="bold" text-anchor="end" fill="#000" stroke="#000" stroke-width="0.1">100</text>
<line x1="400.8" y1="297.5" x2="530.3" y2="297.5" stroke="#333" stroke-width="1"/>
<line x1="400.8" y1="305.6" x2="530.3" y2="305.6" stroke="#333" stroke-width="1"/>
<text x="381.6" y="254.0" font-family="'Liberation Serif','Times New Roman',serif" font-size="6.7" font-weight="bold" text-anchor="middle" fill="#000" stroke="#000" stroke-width="0.1" transform="rotate(-90 381.6 254.0)" dy="2.3">Bacteriostatic rate(%)</text>
<line x1="411.3" y1="305.6" x2="411.3" y2="309.2" stroke="#333" stroke-width="1"/>
<text x="412.90000000000003" y="311.6" font-family="'Liberation Serif','Times New Roman',serif" font-size="6.6" font-weight="bold" text-anchor="end" fill="#000" stroke="#000" stroke-width="0.1" transform="rotate(-45 412.90000000000003 311.6)" dy="2.2">CK</text>
<line x1="426.90000000000003" y1="305.6" x2="426.90000000000003" y2="309.2" stroke="#333" stroke-width="1"/>
<text x="428.50000000000006" y="311.6" font-family="'Liberation Serif','Times New Roman',serif" font-size="6.6" font-weight="bold" text-anchor="end" fill="#000" stroke="#000" stroke-width="0.1" transform="rotate(-45 428.50000000000006 311.6)" dy="2.2">1%LMSH+Lf+NZ2114</text>
<rect x="421.90" y="219.80" width="10" height="77.70" fill="#000"/>
<line x1="442.5" y1="305.6" x2="442.5" y2="309.2" stroke="#333" stroke-width="1"/>
<text x="444.1" y="311.6" font-family="'Liberation Serif','Times New Roman',serif" font-size="6.6" font-weight="bold" text-anchor="end" fill="#000" stroke="#000" stroke-width="0.1" transform="rotate(-45 444.1 311.6)" dy="2.2">3%HACC+Lf+NZ2114</text>
<rect x="437.50" y="219.80" width="10" height="77.70" fill="#000"/>
<line x1="458.1" y1="305.6" x2="458.1" y2="309.2" stroke="#333" stroke-width="1"/>
<text x="459.70000000000005" y="311.6" font-family="'Liberation Serif','Times New Roman',serif" font-size="6.6" font-weight="bold" text-anchor="end" fill="#000" stroke="#000" stroke-width="0.1" transform="rotate(-45 459.70000000000005 311.6)" dy="2.2">Lf+NZ2114</text>
<rect x="453.10" y="219.80" width="10" height="77.70" fill="#000"/>
<line x1="473.7" y1="305.6" x2="473.7" y2="309.2" stroke="#333" stroke-width="1"/>
<text x="475.3" y="311.6" font-family="'Liberation Serif','Times New Roman',serif" font-size="6.6" font-weight="bold" text-anchor="end" fill="#000" stroke="#000" stroke-width="0.1" transform="rotate(-45 475.3 311.6)" dy="2.2">Lf</text>
<rect x="468.70" y="254.77" width="10" height="42.73" fill="#000"/>
<line x1="473.7" y1="254.76500000000001" x2="473.7" y2="248.549" stroke="#333" stroke-width="0.8"/>
<line x1="471.2" y1="248.549" x2="476.2" y2="248.549" stroke="#333" stroke-width="0.8"/>
<line x1="489.3" y1="305.6" x2="489.3" y2="309.2" stroke="#333" stroke-width="1"/>
<text x="490.90000000000003" y="311.6" font-family="'Liberation Serif','Times New Roman',serif" font-size="6.6" font-weight="bold" text-anchor="end" fill="#000" stroke="#000" stroke-width="0.1" transform="rotate(-45 490.90000000000003 311.6)" dy="2.2">NZ2114</text>
<rect x="484.30" y="219.80" width="10" height="77.70" fill="#000"/>
<line x1="504.9" y1="305.6" x2="504.9" y2="309.2" stroke="#333" stroke-width="1"/>
<text x="506.5" y="311.6" font-family="'Liberation Serif','Times New Roman',serif" font-size="6.6" font-weight="bold" text-anchor="end" fill="#000" stroke="#000" stroke-width="0.1" transform="rotate(-45 506.5 311.6)" dy="2.2">1%LMSH</text>
<rect x="499.90" y="261.76" width="10" height="35.74" fill="#000"/>
<line x1="504.9" y1="261.75800000000004" x2="504.9" y2="255.9305" stroke="#333" stroke-width="0.8"/>
<line x1="502.4" y1="255.9305" x2="507.4" y2="255.9305" stroke="#333" stroke-width="0.8"/>
<line x1="520.5" y1="305.6" x2="520.5" y2="309.2" stroke="#333" stroke-width="1"/>
<text x="522.1" y="311.6" font-family="'Liberation Serif','Times New Roman',serif" font-size="6.6" font-weight="bold" text-anchor="end" fill="#000" stroke="#000" stroke-width="0.1" transform="rotate(-45 522.1 311.6)" dy="2.2">3%HACC</text>
<rect x="515.50" y="257.87" width="10" height="39.63" fill="#000"/>
<line x1="520.5" y1="257.873" x2="520.5" y2="257.4068" stroke="#333" stroke-width="0.8"/>
<line x1="518.0" y1="257.4068" x2="523.0" y2="257.4068" stroke="#333" stroke-width="0.8"/>
<line x1="409.7" y1="175.6" x2="409.7" y2="286.0" stroke="#8a8a8a" stroke-width="0.7"/>
<line x1="409.7" y1="175.6" x2="520.6" y2="175.6" stroke="#777777" stroke-width="0.85"/>
<line x1="520.6" y1="173.79999999999998" x2="520.6" y2="177.4" stroke="#777777" stroke-width="0.9"/>
<text x="465.0" y="174.7" font-family="'Liberation Serif','Times New Roman',serif" font-size="6.0" font-weight="bold" text-anchor="middle" fill="#222" stroke="#222" stroke-width="0.1">*</text>
<line x1="409.7" y1="183.0" x2="504.9" y2="183.0" stroke="#777777" stroke-width="0.85"/>
<line x1="504.9" y1="181.2" x2="504.9" y2="184.8" stroke="#777777" stroke-width="0.9"/>
<text x="456.9" y="182.1" font-family="'Liberation Serif','Times New Roman',serif" font-size="6.0" font-weight="bold" text-anchor="middle" fill="#222" stroke="#222" stroke-width="0.1">*</text>
<line x1="409.7" y1="191.4" x2="489.4" y2="191.4" stroke="#777777" stroke-width="0.85"/>
<line x1="489.4" y1="189.6" x2="489.4" y2="193.20000000000002" stroke="#777777" stroke-width="0.9"/>
<text x="449.7" y="190.5" font-family="'Liberation Serif','Times New Roman',serif" font-size="6.0" font-weight="bold" text-anchor="middle" fill="#222" stroke="#222" stroke-width="0.1">***</text>
<line x1="409.7" y1="199.8" x2="473.7" y2="199.8" stroke="#777777" stroke-width="0.85"/>
<line x1="473.7" y1="198.0" x2="473.7" y2="201.60000000000002" stroke="#777777" stroke-width="0.9"/>
<text x="441.7" y="198.9" font-family="'Liberation Serif','Times New Roman',serif" font-size="6.0" font-weight="bold" text-anchor="middle" fill="#222" stroke="#222" stroke-width="0.1">*</text>
<line x1="409.7" y1="206.3" x2="458.0" y2="206.3" stroke="#777777" stroke-width="0.85"/>
<line x1="458.0" y1="204.5" x2="458.0" y2="208.10000000000002" stroke="#777777" stroke-width="0.9"/>
<text x="434.2" y="205.4" font-family="'Liberation Serif','Times New Roman',serif" font-size="6.0" font-weight="bold" text-anchor="middle" fill="#222" stroke="#222" stroke-width="0.1">***</text>
<line x1="411.7" y1="212.3" x2="442.5" y2="212.3" stroke="#777777" stroke-width="0.85"/>
<line x1="442.5" y1="210.5" x2="442.5" y2="214.10000000000002" stroke="#777777" stroke-width="0.9"/>
<text x="427.4" y="211.4" font-family="'Liberation Serif','Times New Roman',serif" font-size="6.0" font-weight="bold" text-anchor="middle" fill="#222" stroke="#222" stroke-width="0.1">***</text>
<line x1="409.7" y1="217.6" x2="426.2" y2="217.6" stroke="#777777" stroke-width="0.85"/>
<line x1="426.2" y1="215.79999999999998" x2="426.2" y2="219.4" stroke="#777777" stroke-width="0.9"/>
<text x="418.1" y="216.7" font-family="'Liberation Serif','Times New Roman',serif" font-size="6.0" font-weight="bold" text-anchor="middle" fill="#222" stroke="#222" stroke-width="0.1">***</text>
</svg>
</body></html>
